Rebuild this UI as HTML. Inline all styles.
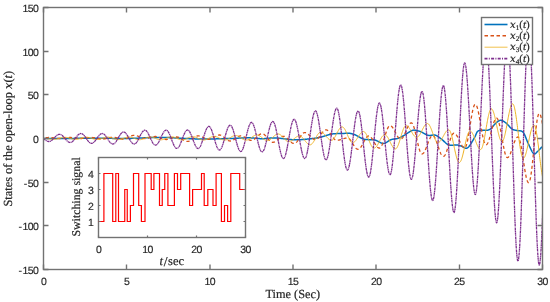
<!DOCTYPE html>
<html><head><meta charset="utf-8"><style>
html,body{margin:0;padding:0;background:#fff;width:550px;height:302px;overflow:hidden}
svg{display:block;filter:blur(0.35px)}
.tl{font-family:"Liberation Sans",sans-serif;font-size:10.5px;letter-spacing:-0.6px;fill:#262626;stroke:#262626;stroke-width:0.15px}
svg text{text-rendering:geometricPrecision}
.lb{font-family:"Liberation Serif",serif;font-size:12.5px;fill:#262626;stroke:#262626;stroke-width:0.2px}
.lg{font-family:"Liberation Serif",serif;font-size:11px;fill:#262626;stroke:#262626;stroke-width:0.2px}
.mi{font-family:"DejaVu Serif",serif;font-style:italic;font-size:10px}
</style></head><body>
<svg width="550" height="302" viewBox="0 0 550 302">
<defs><clipPath id="cp"><rect x="43.5" y="7.5" width="499.0" height="262.0"/></clipPath></defs>
<rect width="550" height="302" fill="#fff"/>
<g clip-path="url(#cp)" fill="none" stroke-linejoin="round">
<polyline points="40.00,138.50 40.25,138.50 40.50,138.50 40.75,138.50 41.00,138.50 41.25,138.50 41.50,138.50 41.75,138.50 42.00,138.50 42.25,138.50 42.50,138.50 42.75,138.50 43.00,138.50 43.25,138.50 43.50,138.50 43.75,138.50 44.00,138.50 44.25,138.50 44.50,138.50 44.75,138.50 45.00,138.49 45.25,138.49 45.50,138.49 45.75,138.49 46.00,138.49 46.25,138.49 46.50,138.49 46.75,138.49 47.00,138.49 47.25,138.49 47.50,138.49 47.75,138.49 48.00,138.48 48.25,138.48 48.50,138.48 48.75,138.48 49.00,138.48 49.25,138.48 49.50,138.48 49.75,138.48 50.00,138.48 50.25,138.48 50.50,138.47 50.75,138.47 51.00,138.47 51.25,138.47 51.50,138.47 51.75,138.47 52.00,138.47 52.25,138.47 52.50,138.47 52.75,138.47 53.00,138.46 53.25,138.46 53.50,138.46 53.75,138.46 54.00,138.46 54.25,138.46 54.50,138.46 54.75,138.46 55.00,138.46 55.25,138.46 55.50,138.45 55.75,138.45 56.00,138.45 56.25,138.45 56.50,138.45 56.75,138.45 57.00,138.45 57.25,138.45 57.50,138.45 57.75,138.44 58.00,138.44 58.25,138.44 58.50,138.44 58.75,138.44 59.00,138.44 59.25,138.44 59.50,138.44 59.75,138.44 60.00,138.44 60.25,138.43 60.50,138.43 60.75,138.43 61.00,138.43 61.25,138.43 61.50,138.43 61.75,138.43 62.00,138.43 62.25,138.43 62.50,138.42 62.75,138.42 63.00,138.42 63.25,138.42 63.50,138.42 63.75,138.42 64.00,138.42 64.25,138.42 64.50,138.42 64.75,138.41 65.00,138.41 65.25,138.41 65.50,138.41 65.75,138.41 66.00,138.41 66.25,138.41 66.50,138.41 66.75,138.41 67.00,138.40 67.25,138.40 67.50,138.40 67.75,138.40 68.00,138.40 68.25,138.40 68.50,138.40 68.75,138.40 69.00,138.40 69.25,138.40 69.50,138.39 69.75,138.39 70.00,138.39 70.25,138.39 70.50,138.39 70.75,138.39 71.00,138.39 71.25,138.39 71.50,138.39 71.75,138.38 72.00,138.38 72.25,138.38 72.50,138.38 72.75,138.38 73.00,138.38 73.25,138.38 73.50,138.38 73.75,138.38 74.00,138.38 74.25,138.37 74.50,138.37 74.75,138.37 75.00,138.37 75.25,138.37 75.50,138.37 75.75,138.37 76.00,138.37 76.25,138.37 76.50,138.37 76.75,138.36 77.00,138.36 77.25,138.36 77.50,138.36 77.75,138.36 78.00,138.36 78.25,138.36 78.50,138.36 78.75,138.36 79.00,138.36 79.25,138.35 79.50,138.35 79.75,138.35 80.00,138.35 80.25,138.35 80.50,138.35 80.75,138.35 81.00,138.35 81.25,138.35 81.50,138.35 81.75,138.35 82.00,138.34 82.25,138.34 82.50,138.34 82.75,138.34 83.00,138.34 83.25,138.34 83.50,138.34 83.75,138.34 84.00,138.34 84.25,138.34 84.50,138.34 84.75,138.34 85.00,138.33 85.25,138.33 85.50,138.33 85.75,138.33 86.00,138.33 86.25,138.33 86.50,138.33 86.75,138.33 87.00,138.33 87.25,138.33 87.50,138.33 87.75,138.33 88.00,138.33 88.25,138.32 88.50,138.32 88.75,138.32 89.00,138.32 89.25,138.32 89.50,138.32 89.75,138.32 90.00,138.32 90.25,138.32 90.50,138.32 90.75,138.32 91.00,138.32 91.25,138.32 91.50,138.32 91.75,138.32 92.00,138.31 92.25,138.31 92.50,138.31 92.75,138.31 93.00,138.31 93.25,138.31 93.50,138.31 93.75,138.31 94.00,138.31 94.25,138.31 94.50,138.31 94.75,138.31 95.00,138.31 95.25,138.31 95.50,138.31 95.75,138.31 96.00,138.31 96.25,138.31 96.50,138.31 96.75,138.30 97.00,138.30 97.25,138.30 97.50,138.30 97.75,138.30 98.00,138.30 98.25,138.30 98.50,138.30 98.75,138.30 99.00,138.30 99.25,138.30 99.50,138.30 99.75,138.30 100.00,138.30 100.25,138.30 100.50,138.30 100.75,138.30 101.00,138.30 101.25,138.30 101.50,138.30 101.75,138.30 102.00,138.30 102.25,138.30 102.50,138.30 102.75,138.30 103.00,138.30 103.25,138.30 103.50,138.31 103.75,138.31 104.00,138.31 104.25,138.31 104.50,138.31 104.75,138.31 105.00,138.31 105.25,138.32 105.50,138.32 105.75,138.32 106.00,138.32 106.25,138.32 106.50,138.32 106.75,138.33 107.00,138.33 107.25,138.33 107.50,138.33 107.75,138.33 108.00,138.34 108.25,138.34 108.50,138.34 108.75,138.34 109.00,138.34 109.25,138.35 109.50,138.35 109.75,138.35 110.00,138.35 110.25,138.36 110.50,138.36 110.75,138.36 111.00,138.36 111.25,138.37 111.50,138.37 111.75,138.37 112.00,138.37 112.25,138.38 112.50,138.38 112.75,138.38 113.00,138.38 113.25,138.39 113.50,138.39 113.75,138.39 114.00,138.39 114.25,138.40 114.50,138.40 114.75,138.40 115.00,138.40 115.25,138.40 115.50,138.41 115.75,138.41 116.00,138.41 116.25,138.41 116.50,138.41 116.75,138.42 117.00,138.42 117.25,138.42 117.50,138.42 117.75,138.42 118.00,138.43 118.25,138.43 118.50,138.43 118.75,138.43 119.00,138.43 119.25,138.43 119.50,138.44 119.75,138.44 120.00,138.44 120.25,138.44 120.50,138.44 120.75,138.44 121.00,138.44 121.25,138.44 121.50,138.44 121.75,138.44 122.00,138.45 122.25,138.45 122.50,138.45 122.75,138.45 123.00,138.45 123.25,138.45 123.50,138.45 123.75,138.45 124.00,138.45 124.25,138.45 124.50,138.45 124.75,138.44 125.00,138.44 125.25,138.44 125.50,138.44 125.75,138.44 126.00,138.44 126.25,138.44 126.50,138.44 126.75,138.44 127.00,138.43 127.25,138.43 127.50,138.43 127.75,138.43 128.00,138.42 128.25,138.42 128.50,138.42 128.75,138.42 129.00,138.41 129.25,138.41 129.50,138.41 129.75,138.40 130.00,138.40 130.25,138.40 130.50,138.39 130.75,138.39 131.00,138.38 131.25,138.38 131.50,138.37 131.75,138.37 132.00,138.36 132.25,138.35 132.50,138.35 132.75,138.34 133.00,138.33 133.25,138.33 133.50,138.32 133.75,138.31 134.00,138.30 134.25,138.29 134.50,138.29 134.75,138.28 135.00,138.27 135.25,138.26 135.50,138.25 135.75,138.24 136.00,138.23 136.25,138.22 136.50,138.21 136.75,138.20 137.00,138.19 137.25,138.18 137.50,138.17 137.75,138.16 138.00,138.15 138.25,138.14 138.50,138.12 138.75,138.11 139.00,138.10 139.25,138.09 139.50,138.08 139.75,138.07 140.00,138.06 140.25,138.04 140.50,138.03 140.75,138.02 141.00,138.01 141.25,138.00 141.50,137.98 141.75,137.97 142.00,137.96 142.25,137.95 142.50,137.93 142.75,137.92 143.00,137.91 143.25,137.90 143.50,137.88 143.75,137.87 144.00,137.86 144.25,137.85 144.50,137.84 144.75,137.82 145.00,137.81 145.25,137.80 145.50,137.79 145.75,137.78 146.00,137.76 146.25,137.75 146.50,137.74 146.75,137.73 147.00,137.72 147.25,137.71 147.50,137.69 147.75,137.68 148.00,137.67 148.25,137.66 148.50,137.65 148.75,137.64 149.00,137.63 149.25,137.62 149.50,137.61 149.75,137.60 150.00,137.59 150.25,137.58 150.50,137.57 150.75,137.56 151.00,137.55 151.25,137.54 151.50,137.53 151.75,137.52 152.00,137.52 152.25,137.51 152.50,137.50 152.75,137.49 153.00,137.48 153.25,137.48 153.50,137.47 153.75,137.46 154.00,137.46 154.25,137.45 154.50,137.44 154.75,137.44 155.00,137.43 155.25,137.43 155.50,137.42 155.75,137.42 156.00,137.42 156.25,137.41 156.50,137.41 156.75,137.41 157.00,137.40 157.25,137.40 157.50,137.40 157.75,137.40 158.00,137.40 158.25,137.40 158.50,137.39 158.75,137.39 159.00,137.39 159.25,137.40 159.50,137.40 159.75,137.40 160.00,137.40 160.25,137.40 160.50,137.40 160.75,137.41 161.00,137.41 161.25,137.41 161.50,137.42 161.75,137.42 162.00,137.43 162.25,137.43 162.50,137.43 162.75,137.44 163.00,137.44 163.25,137.45 163.50,137.46 163.75,137.46 164.00,137.47 164.25,137.47 164.50,137.48 164.75,137.49 165.00,137.49 165.25,137.50 165.50,137.51 165.75,137.51 166.00,137.52 166.25,137.53 166.50,137.54 166.75,137.55 167.00,137.55 167.25,137.56 167.50,137.57 167.75,137.58 168.00,137.59 168.25,137.60 168.50,137.61 168.75,137.62 169.00,137.63 169.25,137.64 169.50,137.65 169.75,137.66 170.00,137.67 170.25,137.68 170.50,137.69 170.75,137.70 171.00,137.71 171.25,137.72 171.50,137.73 171.75,137.75 172.00,137.76 172.25,137.77 172.50,137.78 172.75,137.79 173.00,137.80 173.25,137.82 173.50,137.83 173.75,137.84 174.00,137.85 174.25,137.86 174.50,137.88 174.75,137.89 175.00,137.90 175.25,137.91 175.50,137.93 175.75,137.94 176.00,137.95 176.25,137.97 176.50,137.98 176.75,137.99 177.00,138.00 177.25,138.02 177.50,138.03 177.75,138.04 178.00,138.06 178.25,138.07 178.50,138.08 178.75,138.10 179.00,138.11 179.25,138.12 179.50,138.14 179.75,138.15 180.00,138.16 180.25,138.18 180.50,138.19 180.75,138.20 181.00,138.22 181.25,138.23 181.50,138.25 181.75,138.26 182.00,138.27 182.25,138.29 182.50,138.30 182.75,138.31 183.00,138.33 183.25,138.34 183.50,138.35 183.75,138.37 184.00,138.38 184.25,138.39 184.50,138.41 184.75,138.42 185.00,138.43 185.25,138.44 185.50,138.46 185.75,138.47 186.00,138.48 186.25,138.50 186.50,138.51 186.75,138.52 187.00,138.53 187.25,138.55 187.50,138.56 187.75,138.57 188.00,138.58 188.25,138.60 188.50,138.61 188.75,138.62 189.00,138.63 189.25,138.64 189.50,138.65 189.75,138.67 190.00,138.68 190.25,138.69 190.50,138.70 190.75,138.71 191.00,138.72 191.25,138.73 191.50,138.74 191.75,138.75 192.00,138.76 192.25,138.77 192.50,138.78 192.75,138.79 193.00,138.80 193.25,138.81 193.50,138.82 193.75,138.83 194.00,138.84 194.25,138.85 194.50,138.86 194.75,138.87 195.00,138.88 195.25,138.88 195.50,138.89 195.75,138.90 196.00,138.91 196.25,138.91 196.50,138.92 196.75,138.93 197.00,138.94 197.25,138.94 197.50,138.95 197.75,138.95 198.00,138.96 198.25,138.97 198.50,138.97 198.75,138.98 199.00,138.98 199.25,138.99 199.50,138.99 199.75,139.00 200.00,139.00 200.25,139.00 200.50,139.01 200.75,139.01 201.00,139.01 201.25,139.02 201.50,139.02 201.75,139.02 202.00,139.02 202.25,139.03 202.50,139.03 202.75,139.03 203.00,139.03 203.25,139.03 203.50,139.03 203.75,139.03 204.00,139.03 204.25,139.03 204.50,139.03 204.75,139.03 205.00,139.03 205.25,139.03 205.50,139.03 205.75,139.03 206.00,139.03 206.25,139.03 206.50,139.03 206.75,139.03 207.00,139.03 207.25,139.02 207.50,139.02 207.75,139.02 208.00,139.02 208.25,139.02 208.50,139.01 208.75,139.01 209.00,139.01 209.25,139.00 209.50,139.00 209.75,139.00 210.00,138.99 210.25,138.99 210.50,138.99 210.75,138.98 211.00,138.98 211.25,138.98 211.50,138.97 211.75,138.97 212.00,138.96 212.25,138.96 212.50,138.95 212.75,138.95 213.00,138.94 213.25,138.94 213.50,138.93 213.75,138.93 214.00,138.92 214.25,138.92 214.50,138.91 214.75,138.91 215.00,138.90 215.25,138.90 215.50,138.89 215.75,138.88 216.00,138.88 216.25,138.87 216.50,138.87 216.75,138.86 217.00,138.85 217.25,138.85 217.50,138.84 217.75,138.83 218.00,138.83 218.25,138.82 218.50,138.81 218.75,138.81 219.00,138.80 219.25,138.79 219.50,138.79 219.75,138.78 220.00,138.77 220.25,138.77 220.50,138.76 220.75,138.75 221.00,138.75 221.25,138.74 221.50,138.73 221.75,138.72 222.00,138.72 222.25,138.71 222.50,138.70 222.75,138.70 223.00,138.69 223.25,138.68 223.50,138.68 223.75,138.67 224.00,138.66 224.25,138.65 224.50,138.65 224.75,138.64 225.00,138.63 225.25,138.63 225.50,138.62 225.75,138.61 226.00,138.61 226.25,138.60 226.50,138.59 226.75,138.58 227.00,138.58 227.25,138.57 227.50,138.56 227.75,138.56 228.00,138.55 228.25,138.54 228.50,138.54 228.75,138.53 229.00,138.53 229.25,138.52 229.50,138.51 229.75,138.51 230.00,138.50 230.25,138.49 230.50,138.49 230.75,138.48 231.00,138.47 231.25,138.46 231.50,138.46 231.75,138.45 232.00,138.44 232.25,138.43 232.50,138.42 232.75,138.41 233.00,138.40 233.25,138.39 233.50,138.38 233.75,138.37 234.00,138.35 234.25,138.34 234.50,138.33 234.75,138.32 235.00,138.31 235.25,138.30 235.50,138.28 235.75,138.27 236.00,138.26 236.25,138.25 236.50,138.23 236.75,138.22 237.00,138.21 237.25,138.19 237.50,138.18 237.75,138.17 238.00,138.15 238.25,138.14 238.50,138.13 238.75,138.12 239.00,138.10 239.25,138.09 239.50,138.08 239.75,138.06 240.00,138.05 240.25,138.04 240.50,138.03 240.75,138.02 241.00,138.00 241.25,137.99 241.50,137.98 241.75,137.97 242.00,137.96 242.25,137.95 242.50,137.94 242.75,137.93 243.00,137.92 243.25,137.91 243.50,137.90 243.75,137.89 244.00,137.88 244.25,137.87 244.50,137.86 244.75,137.86 245.00,137.85 245.25,137.84 245.50,137.84 245.75,137.83 246.00,137.82 246.25,137.82 246.50,137.81 246.75,137.81 247.00,137.81 247.25,137.80 247.50,137.80 247.75,137.80 248.00,137.80 248.25,137.80 248.50,137.80 248.75,137.80 249.00,137.80 249.25,137.80 249.50,137.81 249.75,137.81 250.00,137.82 250.25,137.83 250.50,137.84 250.75,137.85 251.00,137.87 251.25,137.88 251.50,137.90 251.75,137.91 252.00,137.93 252.25,137.95 252.50,137.97 252.75,137.99 253.00,138.01 253.25,138.03 253.50,138.06 253.75,138.08 254.00,138.10 254.25,138.13 254.50,138.15 254.75,138.18 255.00,138.20 255.25,138.23 255.50,138.25 255.75,138.28 256.00,138.30 256.25,138.33 256.50,138.35 256.75,138.38 257.00,138.40 257.25,138.43 257.50,138.45 257.75,138.47 258.00,138.49 258.25,138.52 258.50,138.54 258.75,138.56 259.00,138.57 259.25,138.59 259.50,138.61 259.75,138.62 260.00,138.64 260.25,138.65 260.50,138.66 260.75,138.67 261.00,138.68 261.25,138.69 261.50,138.69 261.75,138.70 262.00,138.70 262.25,138.70 262.50,138.70 262.75,138.69 263.00,138.69 263.25,138.68 263.50,138.67 263.75,138.66 264.00,138.64 264.25,138.63 264.50,138.61 264.75,138.59 265.00,138.57 265.25,138.55 265.50,138.53 265.75,138.51 266.00,138.48 266.25,138.46 266.50,138.44 266.75,138.41 267.00,138.39 267.25,138.36 267.50,138.33 267.75,138.31 268.00,138.28 268.25,138.25 268.50,138.23 268.75,138.20 269.00,138.18 269.25,138.15 269.50,138.13 269.75,138.10 270.00,138.08 270.25,138.06 270.50,138.04 270.75,138.01 271.00,138.00 271.25,137.98 271.50,137.96 271.75,137.95 272.00,137.93 272.25,137.92 272.50,137.91 272.75,137.90 273.00,137.89 273.25,137.89 273.50,137.89 273.75,137.89 274.00,137.89 274.25,137.89 274.50,137.90 274.75,137.91 275.00,137.92 275.25,137.93 275.50,137.94 275.75,137.96 276.00,137.97 276.25,137.98 276.50,138.00 276.75,138.02 277.00,138.04 277.25,138.05 277.50,138.07 277.75,138.09 278.00,138.11 278.25,138.14 278.50,138.16 278.75,138.18 279.00,138.21 279.25,138.23 279.50,138.26 279.75,138.28 280.00,138.31 280.25,138.33 280.50,138.36 280.75,138.39 281.00,138.42 281.25,138.45 281.50,138.47 281.75,138.50 282.00,138.53 282.25,138.56 282.50,138.59 282.75,138.62 283.00,138.65 283.25,138.68 283.50,138.72 283.75,138.75 284.00,138.78 284.25,138.81 284.50,138.84 284.75,138.87 285.00,138.90 285.25,138.93 285.50,138.96 285.75,138.99 286.00,139.03 286.25,139.06 286.50,139.09 286.75,139.12 287.00,139.15 287.25,139.18 287.50,139.20 287.75,139.23 288.00,139.26 288.25,139.29 288.50,139.32 288.75,139.35 289.00,139.37 289.25,139.40 289.50,139.42 289.75,139.45 290.00,139.47 290.25,139.50 290.50,139.52 290.75,139.54 291.00,139.57 291.25,139.59 291.50,139.61 291.75,139.63 292.00,139.65 292.25,139.66 292.50,139.68 292.75,139.70 293.00,139.71 293.25,139.73 293.50,139.74 293.75,139.75 294.00,139.77 294.25,139.78 294.50,139.78 294.75,139.79 295.00,139.80 295.25,139.81 295.50,139.81 295.75,139.81 296.00,139.82 296.25,139.82 296.50,139.82 296.75,139.81 297.00,139.81 297.25,139.81 297.50,139.80 297.75,139.80 298.00,139.79 298.25,139.79 298.50,139.78 298.75,139.77 299.00,139.76 299.25,139.75 299.50,139.73 299.75,139.72 300.00,139.71 300.25,139.69 300.50,139.68 300.75,139.66 301.00,139.65 301.25,139.63 301.50,139.61 301.75,139.59 302.00,139.57 302.25,139.56 302.50,139.54 302.75,139.51 303.00,139.49 303.25,139.47 303.50,139.45 303.75,139.43 304.00,139.40 304.25,139.38 304.50,139.36 304.75,139.33 305.00,139.31 305.25,139.29 305.50,139.26 305.75,139.24 306.00,139.21 306.25,139.19 306.50,139.16 306.75,139.13 307.00,139.11 307.25,139.08 307.50,139.06 307.75,139.03 308.00,139.00 308.25,138.98 308.50,138.95 308.75,138.93 309.00,138.90 309.25,138.88 309.50,138.85 309.75,138.83 310.00,138.80 310.25,138.77 310.50,138.75 310.75,138.72 311.00,138.70 311.25,138.67 311.50,138.64 311.75,138.61 312.00,138.59 312.25,138.56 312.50,138.53 312.75,138.50 313.00,138.47 313.25,138.44 313.50,138.40 313.75,138.37 314.00,138.34 314.25,138.30 314.50,138.27 314.75,138.23 315.00,138.20 315.25,138.16 315.50,138.12 315.75,138.09 316.00,138.05 316.25,138.01 316.50,137.97 316.75,137.92 317.00,137.88 317.25,137.84 317.50,137.79 317.75,137.75 318.00,137.70 318.25,137.66 318.50,137.61 318.75,137.56 319.00,137.51 319.25,137.46 319.50,137.41 319.75,137.35 320.00,137.30 320.25,137.24 320.50,137.19 320.75,137.13 321.00,137.06 321.25,137.00 321.50,136.93 321.75,136.87 322.00,136.80 322.25,136.73 322.50,136.66 322.75,136.58 323.00,136.51 323.25,136.43 323.50,136.36 323.75,136.28 324.00,136.20 324.25,136.13 324.50,136.05 324.75,135.97 325.00,135.89 325.25,135.81 325.50,135.73 325.75,135.65 326.00,135.57 326.25,135.49 326.50,135.41 326.75,135.33 327.00,135.26 327.25,135.18 327.50,135.10 327.75,135.03 328.00,134.96 328.25,134.88 328.50,134.81 328.75,134.74 329.00,134.67 329.25,134.60 329.50,134.54 329.75,134.48 330.00,134.41 330.25,134.35 330.50,134.30 330.75,134.24 331.00,134.19 331.25,134.14 331.50,134.09 331.75,134.04 332.00,134.00 332.25,133.96 332.50,133.92 332.75,133.89 333.00,133.86 333.25,133.83 333.50,133.80 333.75,133.77 334.00,133.75 334.25,133.73 334.50,133.71 334.75,133.69 335.00,133.68 335.25,133.66 335.50,133.65 335.75,133.64 336.00,133.63 336.25,133.62 336.50,133.61 336.75,133.60 337.00,133.60 337.25,133.59 337.50,133.59 337.75,133.59 338.00,133.58 338.25,133.58 338.50,133.58 338.75,133.58 339.00,133.57 339.25,133.57 339.50,133.57 339.75,133.57 340.00,133.57 340.25,133.57 340.50,133.56 340.75,133.56 341.00,133.56 341.25,133.55 341.50,133.55 341.75,133.54 342.00,133.54 342.25,133.53 342.50,133.52 342.75,133.51 343.00,133.50 343.25,133.49 343.50,133.47 343.75,133.45 344.00,133.43 344.25,133.41 344.50,133.38 344.75,133.36 345.00,133.33 345.25,133.31 345.50,133.28 345.75,133.26 346.00,133.23 346.25,133.21 346.50,133.20 346.75,133.18 347.00,133.17 347.25,133.16 347.50,133.15 347.75,133.15 348.00,133.16 348.25,133.17 348.50,133.18 348.75,133.20 349.00,133.23 349.25,133.26 349.50,133.29 349.75,133.33 350.00,133.36 350.25,133.41 350.50,133.45 350.75,133.50 351.00,133.55 351.25,133.60 351.50,133.66 351.75,133.72 352.00,133.78 352.25,133.85 352.50,133.92 352.75,133.99 353.00,134.07 353.25,134.15 353.50,134.23 353.75,134.32 354.00,134.41 354.25,134.50 354.50,134.60 354.75,134.70 355.00,134.81 355.25,134.92 355.50,135.03 355.75,135.15 356.00,135.28 356.25,135.40 356.50,135.53 356.75,135.66 357.00,135.79 357.25,135.93 357.50,136.07 357.75,136.21 358.00,136.35 358.25,136.49 358.50,136.63 358.75,136.77 359.00,136.91 359.25,137.05 359.50,137.19 359.75,137.33 360.00,137.46 360.25,137.60 360.50,137.73 360.75,137.86 361.00,137.99 361.25,138.12 361.50,138.24 361.75,138.36 362.00,138.48 362.25,138.59 362.50,138.69 362.75,138.79 363.00,138.89 363.25,138.98 363.50,139.07 363.75,139.14 364.00,139.21 364.25,139.27 364.50,139.32 364.75,139.37 365.00,139.41 365.25,139.45 365.50,139.48 365.75,139.50 366.00,139.53 366.25,139.54 366.50,139.56 366.75,139.57 367.00,139.59 367.25,139.60 367.50,139.61 367.75,139.62 368.00,139.63 368.25,139.64 368.50,139.66 368.75,139.67 369.00,139.69 369.25,139.71 369.50,139.73 369.75,139.74 370.00,139.74 370.25,139.75 370.50,139.75 370.75,139.75 371.00,139.74 371.25,139.74 371.50,139.73 371.75,139.73 372.00,139.73 372.25,139.73 372.50,139.73 372.75,139.73 373.00,139.74 373.25,139.75 373.50,139.77 373.75,139.80 374.00,139.83 374.25,139.86 374.50,139.91 374.75,139.96 375.00,140.03 375.25,140.10 375.50,140.18 375.75,140.27 376.00,140.37 376.25,140.47 376.50,140.58 376.75,140.69 377.00,140.81 377.25,140.94 377.50,141.07 377.75,141.20 378.00,141.33 378.25,141.46 378.50,141.60 378.75,141.73 379.00,141.87 379.25,142.00 379.50,142.13 379.75,142.26 380.00,142.38 380.25,142.50 380.50,142.62 380.75,142.73 381.00,142.83 381.25,142.93 381.50,143.02 381.75,143.10 382.00,143.18 382.25,143.24 382.50,143.30 382.75,143.34 383.00,143.37 383.25,143.39 383.50,143.40 383.75,143.39 384.00,143.37 384.25,143.33 384.50,143.27 384.75,143.19 385.00,143.10 385.25,143.00 385.50,142.89 385.75,142.76 386.00,142.63 386.25,142.49 386.50,142.33 386.75,142.18 387.00,142.02 387.25,141.85 387.50,141.68 387.75,141.51 388.00,141.34 388.25,141.17 388.50,141.00 388.75,140.84 389.00,140.68 389.25,140.52 389.50,140.37 389.75,140.23 390.00,140.09 390.25,139.97 390.50,139.86 390.75,139.75 391.00,139.67 391.25,139.59 391.50,139.51 391.75,139.44 392.00,139.38 392.25,139.33 392.50,139.28 392.75,139.23 393.00,139.19 393.25,139.15 393.50,139.11 393.75,139.08 394.00,139.05 394.25,139.02 394.50,138.99 394.75,138.96 395.00,138.93 395.25,138.90 395.50,138.86 395.75,138.83 396.00,138.80 396.25,138.76 396.50,138.71 396.75,138.67 397.00,138.62 397.25,138.56 397.50,138.50 397.75,138.44 398.00,138.36 398.25,138.28 398.50,138.20 398.75,138.10 399.00,138.01 399.25,137.90 399.50,137.80 399.75,137.68 400.00,137.57 400.25,137.45 400.50,137.32 400.75,137.20 401.00,137.06 401.25,136.93 401.50,136.80 401.75,136.66 402.00,136.52 402.25,136.38 402.50,136.24 402.75,136.10 403.00,135.96 403.25,135.82 403.50,135.68 403.75,135.54 404.00,135.40 404.25,135.26 404.50,135.11 404.75,134.97 405.00,134.81 405.25,134.66 405.50,134.50 405.75,134.33 406.00,134.17 406.25,134.00 406.50,133.83 406.75,133.66 407.00,133.49 407.25,133.32 407.50,133.15 407.75,132.98 408.00,132.81 408.25,132.65 408.50,132.48 408.75,132.32 409.00,132.15 409.25,132.00 409.50,131.84 409.75,131.69 410.00,131.54 410.25,131.40 410.50,131.26 410.75,131.12 411.00,130.99 411.25,130.87 411.50,130.76 411.75,130.65 412.00,130.54 412.25,130.45 412.50,130.36 412.75,130.29 413.00,130.22 413.25,130.17 413.50,130.14 413.75,130.12 414.00,130.11 414.25,130.12 414.50,130.13 414.75,130.16 415.00,130.19 415.25,130.23 415.50,130.28 415.75,130.33 416.00,130.39 416.25,130.45 416.50,130.52 416.75,130.58 417.00,130.65 417.25,130.71 417.50,130.78 417.75,130.84 418.00,130.90 418.25,130.95 418.50,131.00 418.75,131.05 419.00,131.11 419.25,131.17 419.50,131.24 419.75,131.32 420.00,131.40 420.25,131.49 420.50,131.59 420.75,131.69 421.00,131.80 421.25,131.91 421.50,132.04 421.75,132.16 422.00,132.29 422.25,132.42 422.50,132.56 422.75,132.70 423.00,132.84 423.25,132.99 423.50,133.13 423.75,133.28 424.00,133.42 424.25,133.57 424.50,133.71 424.75,133.85 425.00,133.99 425.25,134.13 425.50,134.26 425.75,134.39 426.00,134.51 426.25,134.63 426.50,134.75 426.75,134.85 427.00,134.95 427.25,135.05 427.50,135.13 427.75,135.21 428.00,135.28 428.25,135.33 428.50,135.38 428.75,135.41 429.00,135.43 429.25,135.44 429.50,135.45 429.75,135.44 430.00,135.43 430.25,135.41 430.50,135.38 430.75,135.36 431.00,135.32 431.25,135.29 431.50,135.25 431.75,135.21 432.00,135.18 432.25,135.14 432.50,135.11 432.75,135.08 433.00,135.05 433.25,135.03 433.50,135.02 433.75,135.01 434.00,135.01 434.25,135.02 434.50,135.04 434.75,135.07 435.00,135.11 435.25,135.16 435.50,135.23 435.75,135.31 436.00,135.40 436.25,135.51 436.50,135.62 436.75,135.75 437.00,135.89 437.25,136.03 437.50,136.18 437.75,136.34 438.00,136.51 438.25,136.68 438.50,136.86 438.75,137.04 439.00,137.23 439.25,137.42 439.50,137.61 439.75,137.80 440.00,137.99 440.25,138.18 440.50,138.38 440.75,138.56 441.00,138.75 441.25,138.94 441.50,139.13 441.75,139.33 442.00,139.53 442.25,139.75 442.50,139.97 442.75,140.19 443.00,140.42 443.25,140.65 443.50,140.89 443.75,141.13 444.00,141.37 444.25,141.60 444.50,141.84 444.75,142.08 445.00,142.31 445.25,142.54 445.50,142.77 445.75,142.98 446.00,143.20 446.25,143.41 446.50,143.60 446.75,143.79 447.00,143.97 447.25,144.14 447.50,144.30 447.75,144.45 448.00,144.58 448.25,144.70 448.50,144.80 448.75,144.89 449.00,144.97 449.25,145.04 449.50,145.10 449.75,145.14 450.00,145.18 450.25,145.22 450.50,145.24 450.75,145.26 451.00,145.27 451.25,145.27 451.50,145.27 451.75,145.27 452.00,145.26 452.25,145.24 452.50,145.23 452.75,145.21 453.00,145.18 453.25,145.16 453.50,145.14 453.75,145.11 454.00,145.08 454.25,145.06 454.50,145.04 454.75,145.01 455.00,144.99 455.25,144.98 455.50,144.96 455.75,144.95 456.00,144.95 456.25,144.95 456.50,144.95 456.75,144.96 457.00,144.98 457.25,145.01 457.50,145.04 457.75,145.08 458.00,145.13 458.25,145.19 458.50,145.25 458.75,145.32 459.00,145.40 459.25,145.47 459.50,145.55 459.75,145.64 460.00,145.72 460.25,145.80 460.50,145.89 460.75,145.97 461.00,146.05 461.25,146.13 461.50,146.20 461.75,146.28 462.00,146.38 462.25,146.49 462.50,146.62 462.75,146.76 463.00,146.90 463.25,147.05 463.50,147.20 463.75,147.35 464.00,147.50 464.25,147.64 464.50,147.78 464.75,147.90 465.00,148.01 465.25,148.11 465.50,148.18 465.75,148.24 466.00,148.27 466.25,148.28 466.50,148.26 466.75,148.20 467.00,148.12 467.25,147.99 467.50,147.83 467.75,147.64 468.00,147.43 468.25,147.20 468.50,146.95 468.75,146.68 469.00,146.39 469.25,146.09 469.50,145.77 469.75,145.43 470.00,145.08 470.25,144.72 470.50,144.34 470.75,143.96 471.00,143.56 471.25,143.16 471.50,142.75 471.75,142.34 472.00,141.91 472.25,141.49 472.50,141.06 472.75,140.63 473.00,140.20 473.25,139.77 473.50,139.34 473.75,138.92 474.00,138.49 474.25,138.07 474.50,137.66 474.75,137.24 475.00,136.75 475.25,136.21 475.50,135.62 475.75,135.01 476.00,134.39 476.25,133.78 476.50,133.20 476.75,132.66 477.00,132.19 477.25,131.80 477.50,131.50 477.75,131.28 478.00,131.08 478.25,130.93 478.50,130.80 478.75,130.69 479.00,130.61 479.25,130.55 479.50,130.51 479.75,130.48 480.00,130.46 480.25,130.45 480.50,130.45 480.75,130.45 481.00,130.45 481.25,130.45 481.50,130.44 481.75,130.42 482.00,130.39 482.25,130.36 482.50,130.34 482.75,130.33 483.00,130.32 483.25,130.32 483.50,130.32 483.75,130.33 484.00,130.33 484.25,130.34 484.50,130.35 484.75,130.36 485.00,130.37 485.25,130.37 485.50,130.38 485.75,130.38 486.00,130.37 486.25,130.37 486.50,130.35 486.75,130.34 487.00,130.31 487.25,130.28 487.50,130.24 487.75,130.19 488.00,130.13 488.25,130.06 488.50,129.98 488.75,129.89 489.00,129.78 489.25,129.67 489.50,129.54 489.75,129.40 490.00,129.25 490.25,129.08 490.50,128.90 490.75,128.71 491.00,128.50 491.25,128.28 491.50,128.03 491.75,127.77 492.00,127.50 492.25,127.21 492.50,126.92 492.75,126.62 493.00,126.31 493.25,126.00 493.50,125.69 493.75,125.39 494.00,125.09 494.25,124.79 494.50,124.50 494.75,124.23 495.00,123.97 495.25,123.73 495.50,123.50 495.75,123.28 496.00,123.06 496.25,122.84 496.50,122.62 496.75,122.40 497.00,122.19 497.25,121.98 497.50,121.77 497.75,121.58 498.00,121.39 498.25,121.21 498.50,121.05 498.75,120.89 499.00,120.75 499.25,120.63 499.50,120.53 499.75,120.44 500.00,120.37 500.25,120.32 500.50,120.30 500.75,120.30 501.00,120.31 501.25,120.34 501.50,120.39 501.75,120.45 502.00,120.53 502.25,120.62 502.50,120.72 502.75,120.84 503.00,120.96 503.25,121.10 503.50,121.24 503.75,121.39 504.00,121.55 504.25,121.72 504.50,121.89 504.75,122.07 505.00,122.25 505.25,122.44 505.50,122.62 505.75,122.81 506.00,123.00 506.25,123.20 506.50,123.41 506.75,123.64 507.00,123.88 507.25,124.12 507.50,124.38 507.75,124.65 508.00,124.92 508.25,125.20 508.50,125.49 508.75,125.77 509.00,126.06 509.25,126.34 509.50,126.62 509.75,126.90 510.00,127.17 510.25,127.44 510.50,127.70 510.75,127.95 511.00,128.19 511.25,128.41 511.50,128.62 511.75,128.82 512.00,129.00 512.25,129.16 512.50,129.31 512.75,129.44 513.00,129.56 513.25,129.66 513.50,129.75 513.75,129.84 514.00,129.91 514.25,129.97 514.50,130.03 514.75,130.09 515.00,130.13 515.25,130.18 515.50,130.22 515.75,130.26 516.00,130.31 516.25,130.35 516.50,130.40 516.75,130.45 517.00,130.50 517.25,130.55 517.50,130.59 517.75,130.63 518.00,130.65 518.25,130.67 518.50,130.69 518.75,130.70 519.00,130.72 519.25,130.73 519.50,130.75 519.75,130.77 520.00,130.80 520.25,130.83 520.50,130.87 520.75,130.92 521.00,130.99 521.25,131.07 521.50,131.16 521.75,131.27 522.00,131.39 522.25,131.53 522.50,131.69 522.75,131.88 523.00,132.11 523.25,132.38 523.50,132.70 523.75,133.07 524.00,133.50 524.25,133.98 524.50,134.50 524.75,135.05 525.00,135.64 525.25,136.24 525.50,136.86 525.75,137.50 526.00,138.14 526.25,138.79 526.50,139.43 526.75,140.07 527.00,140.70 527.25,141.31 527.50,141.90 527.75,142.47 528.00,143.00 528.25,143.52 528.50,144.05 528.75,144.59 529.00,145.14 529.25,145.69 529.50,146.25 529.75,146.80 530.00,147.35 530.25,147.89 530.50,148.43 530.75,148.95 531.00,149.47 531.25,149.97 531.50,150.45 531.75,150.91 532.00,151.36 532.25,151.78 532.50,152.17 532.75,152.53 533.00,152.87 533.25,153.17 533.50,153.43 533.75,153.66 534.00,153.83 534.25,153.94 534.50,153.97 534.75,153.94 535.00,153.85 535.25,153.72 535.50,153.55 535.75,153.34 536.00,153.10 536.25,152.84 536.50,152.57 536.75,152.29 537.00,152.01 537.25,151.73 537.50,151.46 537.75,151.22 538.00,151.00 538.25,150.79 538.50,150.56 538.75,150.31 539.00,150.06 539.25,149.79 539.50,149.52 539.75,149.24 540.00,148.97 540.25,148.69 540.50,148.42 540.75,148.15 541.00,147.89 541.25,147.65 541.50,147.41 541.75,147.20 542.00,147.00 542.25,146.82 542.50,146.65 542.75,146.50 543.00,146.36 543.25,146.23 543.50,146.10 543.75,145.99 544.00,145.88 544.25,145.77 544.50,145.66 544.75,145.56 545.00,145.45 545.25,145.35 545.50,145.24 545.75,145.12" stroke="#0072BD" stroke-width="1.5"/>
<polyline points="40.00,138.90 40.25,138.87 40.50,138.84 40.75,138.80 41.00,138.77 41.25,138.72 41.50,138.68 41.75,138.63 42.00,138.58 42.25,138.53 42.50,138.48 42.75,138.43 43.00,138.38 43.25,138.32 43.50,138.27 43.75,138.21 44.00,138.16 44.25,138.10 44.50,138.05 44.75,137.99 45.00,137.94 45.25,137.89 45.50,137.85 45.75,137.80 46.00,137.76 46.25,137.72 46.50,137.68 46.75,137.65 47.00,137.61 47.25,137.59 47.50,137.56 47.75,137.54 48.00,137.53 48.25,137.51 48.50,137.51 48.75,137.50 49.00,137.50 49.25,137.50 49.50,137.51 49.75,137.52 50.00,137.53 50.25,137.54 50.50,137.55 50.75,137.57 51.00,137.59 51.25,137.61 51.50,137.64 51.75,137.67 52.00,137.69 52.25,137.72 52.50,137.75 52.75,137.79 53.00,137.82 53.25,137.86 53.50,137.89 53.75,137.93 54.00,137.96 54.25,138.00 54.50,138.04 54.75,138.07 55.00,138.11 55.25,138.14 55.50,138.18 55.75,138.21 56.00,138.25 56.25,138.28 56.50,138.31 56.75,138.33 57.00,138.36 57.25,138.39 57.50,138.41 57.75,138.43 58.00,138.45 58.25,138.46 58.50,138.47 58.75,138.48 59.00,138.49 59.25,138.50 59.50,138.50 59.75,138.50 60.00,138.50 60.25,138.49 60.50,138.48 60.75,138.47 61.00,138.46 61.25,138.44 61.50,138.42 61.75,138.40 62.00,138.38 62.25,138.35 62.50,138.33 62.75,138.30 63.00,138.27 63.25,138.24 63.50,138.20 63.75,138.17 64.00,138.13 64.25,138.10 64.50,138.06 64.75,138.02 65.00,137.99 65.25,137.95 65.50,137.91 65.75,137.88 66.00,137.84 66.25,137.81 66.50,137.77 66.75,137.74 67.00,137.71 67.25,137.68 67.50,137.65 67.75,137.63 68.00,137.60 68.25,137.58 68.50,137.56 68.75,137.55 69.00,137.53 69.25,137.52 69.50,137.51 69.75,137.50 70.00,137.50 70.25,137.50 70.50,137.50 70.75,137.51 71.00,137.51 71.25,137.52 71.50,137.53 71.75,137.55 72.00,137.57 72.25,137.59 72.50,137.61 72.75,137.63 73.00,137.66 73.25,137.69 73.50,137.71 73.75,137.75 74.00,137.78 74.25,137.81 74.50,137.85 74.75,137.88 75.00,137.92 75.25,137.95 75.50,137.99 75.75,138.03 76.00,138.06 76.25,138.10 76.50,138.13 76.75,138.17 77.00,138.20 77.25,138.24 77.50,138.27 77.75,138.30 78.00,138.33 78.25,138.35 78.50,138.38 78.75,138.40 79.00,138.42 79.25,138.44 79.50,138.46 79.75,138.47 80.00,138.48 80.25,138.49 80.50,138.50 80.75,138.50 81.00,138.50 81.25,138.50 81.50,138.49 81.75,138.49 82.00,138.47 82.25,138.46 82.50,138.45 82.75,138.43 83.00,138.41 83.25,138.39 83.50,138.36 83.75,138.33 84.00,138.31 84.25,138.28 84.50,138.24 84.75,138.21 85.00,138.18 85.25,138.14 85.50,138.11 85.75,138.07 86.00,138.03 86.25,138.00 86.50,137.96 86.75,137.92 87.00,137.89 87.25,137.85 87.50,137.82 87.75,137.78 88.00,137.75 88.25,137.72 88.50,137.69 88.75,137.66 89.00,137.63 89.25,137.61 89.50,137.59 89.75,137.57 90.00,137.55 90.25,137.54 90.50,137.52 90.75,137.51 91.00,137.51 91.25,137.50 91.50,137.50 91.75,137.50 92.00,137.51 92.25,137.52 92.50,137.53 92.75,137.55 93.00,137.57 93.25,137.60 93.50,137.63 93.75,137.66 94.00,137.70 94.25,137.74 94.50,137.78 94.75,137.83 95.00,137.88 95.25,137.93 95.50,137.98 95.75,138.04 96.00,138.09 96.25,138.15 96.50,138.21 96.75,138.27 97.00,138.33 97.25,138.38 97.50,138.44 97.75,138.50 98.00,138.56 98.25,138.61 98.50,138.66 98.75,138.72 99.00,138.76 99.25,138.81 99.50,138.85 99.75,138.90 100.00,138.93 100.25,138.97 100.50,139.00 100.75,139.02 101.00,139.05 101.25,139.07 101.50,139.08 101.75,139.09 102.00,139.10 102.25,139.10 102.50,139.10 102.75,139.09 103.00,139.08 103.25,139.06 103.50,139.04 103.75,139.01 104.00,138.98 104.25,138.95 104.50,138.91 104.75,138.86 105.00,138.82 105.25,138.77 105.50,138.71 105.75,138.66 106.00,138.60 106.25,138.54 106.50,138.48 106.75,138.41 107.00,138.35 107.25,138.28 107.50,138.21 107.75,138.15 108.00,138.08 108.25,138.01 108.50,137.95 108.75,137.89 109.00,137.83 109.25,137.77 109.50,137.71 109.75,137.65 110.00,137.60 110.25,137.56 110.50,137.51 110.75,137.47 111.00,137.43 111.25,137.40 111.50,137.37 111.75,137.35 112.00,137.33 112.25,137.31 112.50,137.31 112.75,137.30 113.00,137.30 113.25,137.31 113.50,137.32 113.75,137.33 114.00,137.35 114.25,137.37 114.50,137.40 114.75,137.44 115.00,137.47 115.25,137.51 115.50,137.56 115.75,137.61 116.00,137.66 116.25,137.71 116.50,137.77 116.75,137.83 117.00,137.89 117.25,137.95 117.50,138.01 117.75,138.08 118.00,138.14 118.25,138.21 118.50,138.28 118.75,138.34 119.00,138.41 119.25,138.47 119.50,138.53 119.75,138.59 120.00,138.65 120.25,138.71 120.50,138.76 120.75,138.81 121.00,138.86 121.25,138.90 121.50,138.94 121.75,138.98 122.00,139.01 122.25,139.03 122.50,139.06 122.75,139.07 123.00,139.09 123.25,139.10 123.50,139.10 123.75,139.10 124.00,139.08 124.25,139.06 124.50,139.03 124.75,138.98 125.00,138.93 125.25,138.87 125.50,138.80 125.75,138.72 126.00,138.63 126.25,138.53 126.50,138.43 126.75,138.31 127.00,138.20 127.25,138.08 127.50,137.95 127.75,137.82 128.00,137.68 128.25,137.55 128.50,137.41 128.75,137.27 129.00,137.13 129.25,136.99 129.50,136.85 129.75,136.71 130.00,136.58 130.25,136.45 130.50,136.32 130.75,136.20 131.00,136.08 131.25,135.97 131.50,135.87 131.75,135.77 132.00,135.68 132.25,135.60 132.50,135.53 132.75,135.47 133.00,135.41 133.25,135.37 133.50,135.34 133.75,135.32 134.00,135.30 134.25,135.30 134.50,135.31 134.75,135.32 135.00,135.35 135.25,135.38 135.50,135.42 135.75,135.47 136.00,135.52 136.25,135.59 136.50,135.66 136.75,135.73 137.00,135.82 137.25,135.91 137.50,136.00 137.75,136.10 138.00,136.21 138.25,136.31 138.50,136.42 138.75,136.54 139.00,136.65 139.25,136.77 139.50,136.89 139.75,137.00 140.00,137.12 140.25,137.24 140.50,137.35 140.75,137.46 141.00,137.57 141.25,137.67 141.50,137.77 141.75,137.87 142.00,137.96 142.25,138.05 142.50,138.12 142.75,138.20 143.00,138.26 143.25,138.32 143.50,138.37 143.75,138.41 144.00,138.45 144.25,138.47 144.50,138.49 144.75,138.50 145.00,138.50 145.25,138.49 145.50,138.48 145.75,138.47 146.00,138.45 146.25,138.42 146.50,138.39 146.75,138.35 147.00,138.31 147.25,138.26 147.50,138.21 147.75,138.16 148.00,138.10 148.25,138.04 148.50,137.98 148.75,137.91 149.00,137.84 149.25,137.77 149.50,137.70 149.75,137.63 150.00,137.56 150.25,137.48 150.50,137.41 150.75,137.34 151.00,137.26 151.25,137.19 151.50,137.12 151.75,137.05 152.00,136.99 152.25,136.93 152.50,136.87 152.75,136.81 153.00,136.76 153.25,136.71 153.50,136.67 153.75,136.63 154.00,136.60 154.25,136.57 154.50,136.54 154.75,136.52 155.00,136.51 155.25,136.50 155.50,136.50 155.75,136.50 156.00,136.52 156.25,136.54 156.50,136.56 156.75,136.60 157.00,136.64 157.25,136.69 157.50,136.75 157.75,136.82 158.00,136.89 158.25,136.96 158.50,137.05 158.75,137.13 159.00,137.22 159.25,137.32 159.50,137.42 159.75,137.52 160.00,137.63 160.25,137.74 160.50,137.85 160.75,137.96 161.00,138.07 161.25,138.18 161.50,138.28 161.75,138.39 162.00,138.50 162.25,138.60 162.50,138.70 162.75,138.79 163.00,138.89 163.25,138.97 163.50,139.05 163.75,139.13 164.00,139.20 164.25,139.26 164.50,139.32 164.75,139.37 165.00,139.41 165.25,139.44 165.50,139.47 165.75,139.49 166.00,139.50 166.25,139.50 166.50,139.50 166.75,139.48 167.00,139.47 167.25,139.44 167.50,139.41 167.75,139.37 168.00,139.33 168.25,139.28 168.50,139.22 168.75,139.16 169.00,139.10 169.25,139.02 169.50,138.95 169.75,138.87 170.00,138.79 170.25,138.71 170.50,138.62 170.75,138.53 171.00,138.44 171.25,138.35 171.50,138.25 171.75,138.16 172.00,138.07 172.25,137.98 172.50,137.89 172.75,137.80 173.00,137.72 173.25,137.63 173.50,137.56 173.75,137.48 174.00,137.41 174.25,137.34 174.50,137.28 174.75,137.23 175.00,137.18 175.25,137.13 175.50,137.09 175.75,137.06 176.00,137.04 176.25,137.02 176.50,137.01 176.75,137.00 177.00,137.00 177.25,137.02 177.50,137.04 177.75,137.08 178.00,137.13 178.25,137.19 178.50,137.26 178.75,137.34 179.00,137.44 179.25,137.54 179.50,137.65 179.75,137.77 180.00,137.89 180.25,138.02 180.50,138.16 180.75,138.31 181.00,138.46 181.25,138.61 181.50,138.77 181.75,138.93 182.00,139.09 182.25,139.25 182.50,139.41 182.75,139.57 183.00,139.73 183.25,139.89 183.50,140.04 183.75,140.18 184.00,140.33 184.25,140.46 184.50,140.59 184.75,140.71 185.00,140.82 185.25,140.93 185.50,141.02 185.75,141.11 186.00,141.18 186.25,141.25 186.50,141.30 186.75,141.34 187.00,141.37 187.25,141.39 187.50,141.40 187.75,141.39 188.00,141.37 188.25,141.34 188.50,141.29 188.75,141.22 189.00,141.14 189.25,141.05 189.50,140.94 189.75,140.82 190.00,140.69 190.25,140.55 190.50,140.40 190.75,140.24 191.00,140.07 191.25,139.89 191.50,139.70 191.75,139.51 192.00,139.32 192.25,139.12 192.50,138.92 192.75,138.72 193.00,138.51 193.25,138.31 193.50,138.11 193.75,137.91 194.00,137.72 194.25,137.53 194.50,137.35 194.75,137.17 195.00,137.00 195.25,136.85 195.50,136.70 195.75,136.56 196.00,136.43 196.25,136.32 196.50,136.22 196.75,136.13 197.00,136.05 197.25,135.99 197.50,135.95 197.75,135.92 198.00,135.90 198.25,135.90 198.50,135.91 198.75,135.93 199.00,135.95 199.25,135.99 199.50,136.03 199.75,136.09 200.00,136.15 200.25,136.22 200.50,136.29 200.75,136.38 201.00,136.46 201.25,136.56 201.50,136.66 201.75,136.77 202.00,136.88 202.25,136.99 202.50,137.11 202.75,137.23 203.00,137.36 203.25,137.48 203.50,137.60 203.75,137.73 204.00,137.85 204.25,137.98 204.50,138.10 204.75,138.21 205.00,138.33 205.25,138.44 205.50,138.55 205.75,138.65 206.00,138.74 206.25,138.83 206.50,138.91 206.75,138.99 207.00,139.06 207.25,139.12 207.50,139.17 207.75,139.21 208.00,139.25 208.25,139.27 208.50,139.29 208.75,139.30 209.00,139.30 209.25,139.28 209.50,139.26 209.75,139.22 210.00,139.17 210.25,139.12 210.50,139.05 210.75,138.97 211.00,138.88 211.25,138.78 211.50,138.67 211.75,138.55 212.00,138.43 212.25,138.30 212.50,138.16 212.75,138.02 213.00,137.87 213.25,137.72 213.50,137.56 213.75,137.40 214.00,137.25 214.25,137.09 214.50,136.93 214.75,136.77 215.00,136.62 215.25,136.46 215.50,136.31 215.75,136.17 216.00,136.03 216.25,135.90 216.50,135.77 216.75,135.65 217.00,135.54 217.25,135.44 217.50,135.35 217.75,135.27 218.00,135.20 218.25,135.14 218.50,135.09 218.75,135.05 219.00,135.02 219.25,135.00 219.50,135.00 219.75,135.01 220.00,135.04 220.25,135.08 220.50,135.14 220.75,135.21 221.00,135.30 221.25,135.40 221.50,135.52 221.75,135.65 222.00,135.80 222.25,135.95 222.50,136.12 222.75,136.29 223.00,136.48 223.25,136.67 223.50,136.87 223.75,137.08 224.00,137.29 224.25,137.51 224.50,137.73 224.75,137.95 225.00,138.17 225.25,138.39 225.50,138.60 225.75,138.82 226.00,139.03 226.25,139.23 226.50,139.43 226.75,139.62 227.00,139.80 227.25,139.97 227.50,140.13 227.75,140.28 228.00,140.42 228.25,140.54 228.50,140.65 228.75,140.75 229.00,140.83 229.25,140.89 229.50,140.94 229.75,140.98 230.00,141.00 230.25,141.00 230.50,140.99 230.75,140.96 231.00,140.92 231.25,140.87 231.50,140.80 231.75,140.72 232.00,140.63 232.25,140.53 232.50,140.41 232.75,140.29 233.00,140.15 233.25,140.01 233.50,139.85 233.75,139.69 234.00,139.52 234.25,139.35 234.50,139.17 234.75,138.99 235.00,138.80 235.25,138.62 235.50,138.43 235.75,138.24 236.00,138.05 236.25,137.87 236.50,137.68 236.75,137.51 237.00,137.33 237.25,137.17 237.50,137.01 237.75,136.86 238.00,136.71 238.25,136.58 238.50,136.46 238.75,136.35 239.00,136.25 239.25,136.16 239.50,136.08 239.75,136.02 240.00,135.97 240.25,135.93 240.50,135.91 240.75,135.90 241.00,135.90 241.25,135.92 241.50,135.95 241.75,135.99 242.00,136.04 242.25,136.11 242.50,136.18 242.75,136.27 243.00,136.36 243.25,136.47 243.50,136.58 243.75,136.70 244.00,136.83 244.25,136.97 244.50,137.11 244.75,137.26 245.00,137.42 245.25,137.58 245.50,137.74 245.75,137.90 246.00,138.06 246.25,138.23 246.50,138.39 246.75,138.56 247.00,138.72 247.25,138.88 247.50,139.03 247.75,139.18 248.00,139.32 248.25,139.46 248.50,139.59 248.75,139.72 249.00,139.83 249.25,139.93 249.50,140.03 249.75,140.12 250.00,140.19 250.25,140.25 250.50,140.31 250.75,140.35 251.00,140.38 251.25,140.39 251.50,140.40 251.75,140.39 252.00,140.36 252.25,140.31 252.50,140.25 252.75,140.17 253.00,140.07 253.25,139.95 253.50,139.82 253.75,139.67 254.00,139.51 254.25,139.34 254.50,139.15 254.75,138.95 255.00,138.74 255.25,138.52 255.50,138.30 255.75,138.06 256.00,137.83 256.25,137.58 256.50,137.34 256.75,137.09 257.00,136.84 257.25,136.60 257.50,136.35 257.75,136.11 258.00,135.88 258.25,135.65 258.50,135.43 258.75,135.21 259.00,135.01 259.25,134.82 259.50,134.64 259.75,134.48 260.00,134.33 260.25,134.19 260.50,134.07 260.75,133.96 261.00,133.88 261.25,133.81 261.50,133.75 261.75,133.72 262.00,133.70 262.25,133.70 262.50,133.73 262.75,133.78 263.00,133.85 263.25,133.94 263.50,134.06 263.75,134.19 264.00,134.35 264.25,134.53 264.50,134.72 264.75,134.94 265.00,135.17 265.25,135.41 265.50,135.67 265.75,135.94 266.00,136.22 266.25,136.52 266.50,136.82 266.75,137.12 267.00,137.43 267.25,137.75 267.50,138.06 267.75,138.38 268.00,138.69 268.25,139.00 268.50,139.30 268.75,139.60 269.00,139.89 269.25,140.17 269.50,140.43 269.75,140.69 270.00,140.93 270.25,141.15 270.50,141.36 270.75,141.54 271.00,141.71 271.25,141.86 271.50,141.99 271.75,142.10 272.00,142.18 272.25,142.24 272.50,142.28 272.75,142.30 273.00,142.29 273.25,142.27 273.50,142.24 273.75,142.18 274.00,142.11 274.25,142.03 274.50,141.93 274.75,141.81 275.00,141.69 275.25,141.55 275.50,141.39 275.75,141.23 276.00,141.05 276.25,140.87 276.50,140.68 276.75,140.47 277.00,140.27 277.25,140.06 277.50,139.84 277.75,139.62 278.00,139.40 278.25,139.18 278.50,138.95 278.75,138.74 279.00,138.52 279.25,138.31 279.50,138.10 279.75,137.90 280.00,137.71 280.25,137.53 280.50,137.35 280.75,137.19 281.00,137.04 281.25,136.90 281.50,136.77 281.75,136.66 282.00,136.56 282.25,136.48 282.50,136.41 282.75,136.36 283.00,136.32 283.25,136.30 283.50,136.30 283.75,136.32 284.00,136.35 284.25,136.41 284.50,136.48 284.75,136.57 285.00,136.68 285.25,136.81 285.50,136.95 285.75,137.11 286.00,137.28 286.25,137.47 286.50,137.67 286.75,137.89 287.00,138.11 287.25,138.35 287.50,138.59 287.75,138.84 288.00,139.09 288.25,139.35 288.50,139.61 288.75,139.88 289.00,140.14 289.25,140.41 289.50,140.67 289.75,140.92 290.00,141.17 290.25,141.42 290.50,141.65 290.75,141.88 291.00,142.09 291.25,142.30 291.50,142.49 291.75,142.66 292.00,142.82 292.25,142.97 292.50,143.10 292.75,143.21 293.00,143.31 293.25,143.38 293.50,143.44 293.75,143.48 294.00,143.50 294.25,143.50 294.50,143.47 294.75,143.41 295.00,143.32 295.25,143.20 295.50,143.05 295.75,142.88 296.00,142.68 296.25,142.45 296.50,142.20 296.75,141.93 297.00,141.64 297.25,141.33 297.50,141.00 297.75,140.65 298.00,140.29 298.25,139.91 298.50,139.53 298.75,139.14 299.00,138.74 299.25,138.34 299.50,137.94 299.75,137.53 300.00,137.14 300.25,136.74 300.50,136.35 300.75,135.98 301.00,135.61 301.25,135.26 301.50,134.92 301.75,134.60 302.00,134.29 302.25,134.01 302.50,133.75 302.75,133.52 303.00,133.31 303.25,133.12 303.50,132.96 303.75,132.83 304.00,132.73 304.25,132.66 304.50,132.61 304.75,132.60 305.00,132.61 305.25,132.64 305.50,132.69 305.75,132.75 306.00,132.84 306.25,132.94 306.50,133.06 306.75,133.19 307.00,133.34 307.25,133.51 307.50,133.69 307.75,133.88 308.00,134.08 308.25,134.30 308.50,134.52 308.75,134.76 309.00,135.00 309.25,135.25 309.50,135.50 309.75,135.75 310.00,136.01 310.25,136.26 310.50,136.52 310.75,136.77 311.00,137.02 311.25,137.27 311.50,137.51 311.75,137.74 312.00,137.96 312.25,138.17 312.50,138.38 312.75,138.56 313.00,138.74 313.25,138.90 313.50,139.05 313.75,139.18 314.00,139.29 314.25,139.39 314.50,139.47 314.75,139.53 315.00,139.57 315.25,139.59 315.50,139.60 315.75,139.58 316.00,139.53 316.25,139.46 316.50,139.36 316.75,139.24 317.00,139.09 317.25,138.92 317.50,138.73 317.75,138.51 318.00,138.27 318.25,138.02 318.50,137.74 318.75,137.45 319.00,137.15 319.25,136.83 319.50,136.50 319.75,136.16 320.00,135.82 320.25,135.46 320.50,135.11 320.75,134.75 321.00,134.39 321.25,134.04 321.50,133.68 321.75,133.34 322.00,133.00 322.25,132.67 322.50,132.35 322.75,132.05 323.00,131.76 323.25,131.48 323.50,131.23 323.75,130.99 324.00,130.77 324.25,130.58 324.50,130.41 324.75,130.26 325.00,130.14 325.25,130.04 325.50,129.97 325.75,129.92 326.00,129.90 326.25,129.91 326.50,129.94 326.75,130.01 327.00,130.10 327.25,130.21 327.50,130.36 327.75,130.53 328.00,130.72 328.25,130.94 328.50,131.18 328.75,131.44 329.00,131.72 329.25,132.02 329.50,132.33 329.75,132.66 330.00,133.01 330.25,133.36 330.50,133.73 330.75,134.10 331.00,134.48 331.25,134.86 331.50,135.24 331.75,135.62 332.00,136.00 332.25,136.37 332.50,136.74 332.75,137.09 333.00,137.44 333.25,137.77 333.50,138.09 333.75,138.40 334.00,138.68 334.25,138.95 334.50,139.20 334.75,139.42 335.00,139.62 335.25,139.80 335.50,139.95 335.75,140.07 336.00,140.17 336.25,140.24 336.50,140.28 336.75,140.30 337.00,140.30 337.25,140.29 337.50,140.27 337.75,140.25 338.00,140.22 338.25,140.19 338.50,140.15 338.75,140.11 339.00,140.06 339.25,140.00 339.50,139.94 339.75,139.88 340.00,139.81 340.25,139.74 340.50,139.67 340.75,139.59 341.00,139.51 341.25,139.43 341.50,139.34 341.75,139.26 342.00,139.17 342.25,139.09 342.50,139.00 342.75,138.92 343.00,138.84 343.25,138.76 343.50,138.68 343.75,138.60 344.00,138.53 344.25,138.46 344.50,138.39 344.75,138.33 345.00,138.27 345.25,138.22 345.50,138.17 345.75,138.13 346.00,138.09 346.25,138.06 346.50,138.04 346.75,138.02 347.00,138.01 347.25,138.00 347.50,138.00 347.75,138.03 348.00,138.09 348.25,138.18 348.50,138.30 348.75,138.45 349.00,138.63 349.25,138.83 349.50,139.06 349.75,139.31 350.00,139.59 350.25,139.89 350.50,140.21 350.75,140.55 351.00,140.90 351.25,141.27 351.50,141.65 351.75,142.05 352.00,142.45 352.25,142.86 352.50,143.27 352.75,143.68 353.00,144.10 353.25,144.51 353.50,144.92 353.75,145.32 354.00,145.71 354.25,146.09 354.50,146.46 354.75,146.81 355.00,147.14 355.25,147.46 355.50,147.76 355.75,148.03 356.00,148.28 356.25,148.50 356.50,148.70 356.75,148.87 357.00,149.02 357.25,149.13 357.50,149.22 357.75,149.27 358.00,149.30 358.25,149.29 358.50,149.25 358.75,149.17 359.00,149.06 359.25,148.91 359.50,148.72 359.75,148.50 360.00,148.26 360.25,147.98 360.50,147.67 360.75,147.33 361.00,146.97 361.25,146.58 361.50,146.18 361.75,145.75 362.00,145.31 362.25,144.85 362.50,144.38 362.75,143.90 363.00,143.42 363.25,142.93 363.50,142.43 363.75,141.94 364.00,141.46 364.25,140.98 364.50,140.51 364.75,140.05 365.00,139.60 365.25,139.17 365.50,138.76 365.75,138.38 366.00,138.01 366.25,137.67 366.50,137.36 366.75,137.08 367.00,136.82 367.25,136.60 367.50,136.41 367.75,136.26 368.00,136.14 368.25,136.06 368.50,136.01 368.75,136.00 369.00,136.02 369.25,136.08 369.50,136.17 369.75,136.29 370.00,136.44 370.25,136.62 370.50,136.83 370.75,137.06 371.00,137.33 371.25,137.62 371.50,137.93 371.75,138.27 372.00,138.62 372.25,139.00 372.50,139.39 372.75,139.80 373.00,140.21 373.25,140.64 373.50,141.08 373.75,141.52 374.00,141.96 374.25,142.41 374.50,142.85 374.75,143.28 375.00,143.72 375.25,144.14 375.50,144.55 375.75,144.95 376.00,145.33 376.25,145.69 376.50,146.04 376.75,146.36 377.00,146.66 377.25,146.93 377.50,147.18 377.75,147.40 378.00,147.60 378.25,147.76 378.50,147.89 378.75,147.99 379.00,148.06 379.25,148.09 379.50,148.10 379.75,148.04 380.00,147.92 380.25,147.75 380.50,147.51 380.75,147.22 381.00,146.87 381.25,146.46 381.50,146.01 381.75,145.50 382.00,144.95 382.25,144.35 382.50,143.71 382.75,143.04 383.00,142.33 383.25,141.59 383.50,140.82 383.75,140.04 384.00,139.24 384.25,138.42 384.50,137.60 384.75,136.77 385.00,135.94 385.25,135.12 385.50,134.31 385.75,133.51 386.00,132.73 386.25,131.97 386.50,131.24 386.75,130.54 387.00,129.88 387.25,129.25 387.50,128.67 387.75,128.13 388.00,127.64 388.25,127.20 388.50,126.81 388.75,126.48 389.00,126.21 389.25,125.99 389.50,125.83 389.75,125.74 390.00,125.70 390.25,125.72 390.50,125.77 390.75,125.85 391.00,125.97 391.25,126.13 391.50,126.32 391.75,126.54 392.00,126.79 392.25,127.08 392.50,127.39 392.75,127.72 393.00,128.09 393.25,128.47 393.50,128.88 393.75,129.30 394.00,129.75 394.25,130.20 394.50,130.67 394.75,131.15 395.00,131.63 395.25,132.12 395.50,132.60 395.75,133.09 396.00,133.57 396.25,134.05 396.50,134.52 396.75,134.97 397.00,135.41 397.25,135.84 397.50,136.24 397.75,136.63 398.00,136.99 398.25,137.33 398.50,137.64 398.75,137.92 399.00,138.17 399.25,138.39 399.50,138.58 399.75,138.73 400.00,138.85 400.25,138.94 400.50,138.99 400.75,139.00 401.00,138.97 401.25,138.90 401.50,138.79 401.75,138.63 402.00,138.43 402.25,138.19 402.50,137.91 402.75,137.59 403.00,137.24 403.25,136.85 403.50,136.43 403.75,135.98 404.00,135.50 404.25,135.00 404.50,134.47 404.75,133.93 405.00,133.37 405.25,132.79 405.50,132.21 405.75,131.62 406.00,131.02 406.25,130.43 406.50,129.83 406.75,129.25 407.00,128.67 407.25,128.11 407.50,127.56 407.75,127.03 408.00,126.52 408.25,126.04 408.50,125.58 408.75,125.15 409.00,124.75 409.25,124.39 409.50,124.06 409.75,123.77 410.00,123.52 410.25,123.31 410.50,123.15 410.75,123.02 411.00,122.94 411.25,122.90 411.50,122.92 411.75,123.01 412.00,123.19 412.25,123.45 412.50,123.79 412.75,124.21 413.00,124.70 413.25,125.27 413.50,125.91 413.75,126.62 414.00,127.39 414.25,128.22 414.50,129.11 414.75,130.04 415.00,131.02 415.25,132.04 415.50,133.09 415.75,134.18 416.00,135.28 416.25,136.40 416.50,137.54 416.75,138.67 417.00,139.81 417.25,140.94 417.50,142.05 417.75,143.15 418.00,144.22 418.25,145.25 418.50,146.25 418.75,147.21 419.00,148.12 419.25,148.98 419.50,149.79 419.75,150.53 420.00,151.20 420.25,151.81 420.50,152.34 420.75,152.80 421.00,153.18 421.25,153.48 421.50,153.71 421.75,153.84 422.00,153.90 422.25,153.88 422.50,153.82 422.75,153.70 423.00,153.53 423.25,153.32 423.50,153.06 423.75,152.75 424.00,152.40 424.25,152.01 424.50,151.58 424.75,151.11 425.00,150.61 425.25,150.08 425.50,149.51 425.75,148.92 426.00,148.31 426.25,147.68 426.50,147.03 426.75,146.37 427.00,145.70 427.25,145.02 427.50,144.34 427.75,143.67 428.00,143.00 428.25,142.34 428.50,141.70 428.75,141.07 429.00,140.46 429.25,139.87 429.50,139.31 429.75,138.79 430.00,138.29 430.25,137.83 430.50,137.41 430.75,137.02 431.00,136.68 431.25,136.38 431.50,136.13 431.75,135.93 432.00,135.77 432.25,135.67 432.50,135.61 432.75,135.60 433.00,135.65 433.25,135.76 433.50,135.91 433.75,136.13 434.00,136.39 434.25,136.71 434.50,137.08 434.75,137.50 435.00,137.96 435.25,138.46 435.50,139.01 435.75,139.59 436.00,140.21 436.25,140.86 436.50,141.54 436.75,142.24 437.00,142.96 437.25,143.70 437.50,144.45 437.75,145.21 438.00,145.97 438.25,146.73 438.50,147.49 438.75,148.24 439.00,148.98 439.25,149.70 439.50,150.41 439.75,151.08 440.00,151.74 440.25,152.36 440.50,152.94 440.75,153.49 441.00,154.00 441.25,154.47 441.50,154.89 441.75,155.26 442.00,155.58 442.25,155.85 442.50,156.07 442.75,156.23 443.00,156.34 443.25,156.39 443.50,156.39 443.75,156.32 444.00,156.19 444.25,156.00 444.50,155.75 444.75,155.43 445.00,155.06 445.25,154.63 445.50,154.15 445.75,153.62 446.00,153.04 446.25,152.41 446.50,151.75 446.75,151.04 447.00,150.30 447.25,149.53 447.50,148.74 447.75,147.92 448.00,147.08 448.25,146.24 448.50,145.38 448.75,144.53 449.00,143.67 449.25,142.82 449.50,141.98 449.75,141.16 450.00,140.35 450.25,139.57 450.50,138.82 450.75,138.10 451.00,137.42 451.25,136.78 451.50,136.18 451.75,135.63 452.00,135.13 452.25,134.69 452.50,134.29 452.75,133.96 453.00,133.68 453.25,133.47 453.50,133.32 453.75,133.23 454.00,133.20 454.25,133.22 454.50,133.29 454.75,133.39 455.00,133.53 455.25,133.71 455.50,133.92 455.75,134.17 456.00,134.46 456.25,134.77 456.50,135.12 456.75,135.50 457.00,135.90 457.25,136.34 457.50,136.79 457.75,137.26 458.00,137.75 458.25,138.26 458.50,138.78 458.75,139.30 459.00,139.84 459.25,140.38 459.50,140.92 459.75,141.45 460.00,141.99 460.25,142.51 460.50,143.03 460.75,143.53 461.00,144.01 461.25,144.48 461.50,144.92 461.75,145.34 462.00,145.74 462.25,146.11 462.50,146.45 462.75,146.75 463.00,147.02 463.25,147.26 463.50,147.46 463.75,147.63 464.00,147.75 464.25,147.84 464.50,147.89 464.75,147.90 465.00,147.80 465.25,147.59 465.50,147.26 465.75,146.82 466.00,146.26 466.25,145.59 466.50,144.82 466.75,143.94 467.00,142.96 467.25,141.90 467.50,140.74 467.75,139.51 468.00,138.20 468.25,136.83 468.50,135.40 468.75,133.92 469.00,132.39 469.25,130.83 469.50,129.25 469.75,127.65 470.00,126.04 470.25,124.42 470.50,122.82 470.75,121.24 471.00,119.68 471.25,118.16 471.50,116.68 471.75,115.26 472.00,113.89 472.25,112.59 472.50,111.36 472.75,110.21 473.00,109.15 473.25,108.19 473.50,107.32 473.75,106.55 474.00,105.89 474.25,105.34 474.50,104.91 474.75,104.59 475.00,104.39 475.25,104.30 475.50,104.33 475.75,104.48 476.00,104.73 476.25,105.08 476.50,105.54 476.75,106.11 477.00,106.77 477.25,107.53 477.50,108.38 477.75,109.32 478.00,110.34 478.25,111.43 478.50,112.60 478.75,113.83 479.00,115.12 479.25,116.46 479.50,117.84 479.75,119.26 480.00,120.71 480.25,122.18 480.50,123.66 480.75,125.14 481.00,126.63 481.25,128.10 481.50,129.55 481.75,130.98 482.00,132.37 482.25,133.72 482.50,135.02 482.75,136.26 483.00,137.44 483.25,138.55 483.50,139.59 483.75,140.54 484.00,141.41 484.25,142.19 484.50,142.87 484.75,143.45 485.00,143.93 485.25,144.31 485.50,144.58 485.75,144.75 486.00,144.80 486.25,144.76 486.50,144.65 486.75,144.47 487.00,144.22 487.25,143.90 487.50,143.51 487.75,143.06 488.00,142.54 488.25,141.96 488.50,141.33 488.75,140.64 489.00,139.90 489.25,139.11 489.50,138.29 489.75,137.42 490.00,136.53 490.25,135.60 490.50,134.66 490.75,133.69 491.00,132.72 491.25,131.74 491.50,130.75 491.75,129.77 492.00,128.80 492.25,127.85 492.50,126.91 492.75,126.00 493.00,125.12 493.25,124.28 493.50,123.47 493.75,122.71 494.00,122.00 494.25,121.34 494.50,120.73 494.75,120.18 495.00,119.70 495.25,119.28 495.50,118.92 495.75,118.64 496.00,118.42 496.25,118.28 496.50,118.21 496.75,118.21 497.00,118.32 497.25,118.54 497.50,118.85 497.75,119.27 498.00,119.80 498.25,120.41 498.50,121.13 498.75,121.93 499.00,122.82 499.25,123.79 499.50,124.83 499.75,125.95 500.00,127.13 500.25,128.37 500.50,129.66 500.75,130.99 501.00,132.37 501.25,133.77 501.50,135.19 501.75,136.63 502.00,138.07 502.25,139.52 502.50,140.95 502.75,142.37 503.00,143.77 503.25,145.13 503.50,146.45 503.75,147.73 504.00,148.96 504.25,150.12 504.50,151.22 504.75,152.25 505.00,153.20 505.25,154.07 505.50,154.85 505.75,155.54 506.00,156.14 506.25,156.64 506.50,157.03 506.75,157.32 507.00,157.51 507.25,157.60 507.50,157.59 507.75,157.52 508.00,157.39 508.25,157.21 508.50,156.98 508.75,156.69 509.00,156.35 509.25,155.97 509.50,155.53 509.75,155.05 510.00,154.53 510.25,153.97 510.50,153.37 510.75,152.74 511.00,152.08 511.25,151.39 511.50,150.68 511.75,149.95 512.00,149.21 512.25,148.46 512.50,147.70 512.75,146.93 513.00,146.17 513.25,145.42 513.50,144.68 513.75,143.95 514.00,143.24 514.25,142.55 514.50,141.89 514.75,141.26 515.00,140.66 515.25,140.09 515.50,139.57 515.75,139.09 516.00,138.65 516.25,138.26 516.50,137.92 516.75,137.63 517.00,137.40 517.25,137.21 517.50,137.09 517.75,137.02 518.00,137.00 518.25,137.09 518.50,137.31 518.75,137.64 519.00,138.10 519.25,138.67 519.50,139.36 519.75,140.15 520.00,141.05 520.25,142.06 520.50,143.16 520.75,144.35 521.00,145.62 521.25,146.97 521.50,148.39 521.75,149.87 522.00,151.40 522.25,152.98 522.50,154.60 522.75,156.24 523.00,157.91 523.25,159.58 523.50,161.26 523.75,162.93 524.00,164.58 524.25,166.21 524.50,167.80 524.75,169.35 525.00,170.85 525.25,172.29 525.50,173.66 525.75,174.96 526.00,176.17 526.25,177.30 526.50,178.34 526.75,179.27 527.00,180.10 527.25,180.82 527.50,181.43 527.75,181.92 528.00,182.30 528.25,182.55 528.50,182.68 528.75,182.68 529.00,182.50 529.25,182.14 529.50,181.59 529.75,180.85 530.00,179.94 530.25,178.85 530.50,177.59 530.75,176.18 531.00,174.61 531.25,172.89 531.50,171.04 531.75,169.06 532.00,166.97 532.25,164.78 532.50,162.49 532.75,160.13 533.00,157.70 533.25,155.21 533.50,152.69 533.75,150.15 534.00,147.59 534.25,145.03 534.50,142.50 534.75,139.99 535.00,137.52 535.25,135.12 535.50,132.79 535.75,130.53 536.00,128.38 536.25,126.33 536.50,124.41 536.75,122.61 537.00,120.95 537.25,119.44 537.50,118.08 537.75,116.89 538.00,115.88 538.25,115.03 538.50,114.37 538.75,113.89 539.00,113.60 539.25,113.50 539.50,113.56 539.75,113.77 540.00,114.11 540.25,114.58 540.50,115.19 540.75,115.93 541.00,116.79 541.25,117.77 541.50,118.87 541.75,120.08 542.00,121.39 542.25,122.80 542.50,124.30 542.75,125.88 543.00,127.53 543.25,129.24 543.50,131.01 543.75,132.82 544.00,134.66 544.25,136.53 544.50,138.42 544.75,140.31 545.00,142.19 545.25,144.06 545.50,145.90 545.75,147.71" stroke="#D95319" stroke-width="1.3" stroke-dasharray="3.2 2.6"/>
<polyline points="40.00,138.50 40.25,138.50 40.50,138.50 40.75,138.50 41.00,138.50 41.25,138.50 41.50,138.50 41.75,138.50 42.00,138.50 42.25,138.50 42.50,138.50 42.75,138.50 43.00,138.50 43.25,138.50 43.50,138.50 43.75,138.50 44.00,138.50 44.25,138.51 44.50,138.51 44.75,138.52 45.00,138.53 45.25,138.55 45.50,138.56 45.75,138.58 46.00,138.60 46.25,138.62 46.50,138.64 46.75,138.66 47.00,138.69 47.25,138.71 47.50,138.74 47.75,138.77 48.00,138.80 48.25,138.82 48.50,138.85 48.75,138.88 49.00,138.91 49.25,138.94 49.50,138.97 49.75,139.00 50.00,139.03 50.25,139.05 50.50,139.08 50.75,139.11 51.00,139.13 51.25,139.16 51.50,139.18 51.75,139.20 52.00,139.22 52.25,139.23 52.50,139.25 52.75,139.26 53.00,139.27 53.25,139.28 53.50,139.29 53.75,139.30 54.00,139.30 54.25,139.30 54.50,139.30 54.75,139.29 55.00,139.27 55.25,139.26 55.50,139.23 55.75,139.20 56.00,139.17 56.25,139.13 56.50,139.09 56.75,139.04 57.00,138.99 57.25,138.93 57.50,138.87 57.75,138.81 58.00,138.75 58.25,138.68 58.50,138.61 58.75,138.54 59.00,138.47 59.25,138.40 59.50,138.32 59.75,138.25 60.00,138.18 60.25,138.10 60.50,138.03 60.75,137.96 61.00,137.90 61.25,137.83 61.50,137.77 61.75,137.71 62.00,137.65 62.25,137.59 62.50,137.54 62.75,137.50 63.00,137.46 63.25,137.42 63.50,137.39 63.75,137.36 64.00,137.34 64.25,137.32 64.50,137.31 64.75,137.30 65.00,137.30 65.25,137.30 65.50,137.31 65.75,137.33 66.00,137.35 66.25,137.38 66.50,137.41 66.75,137.45 67.00,137.49 67.25,137.54 67.50,137.59 67.75,137.64 68.00,137.70 68.25,137.77 68.50,137.83 68.75,137.90 69.00,137.97 69.25,138.05 69.50,138.12 69.75,138.20 70.00,138.28 70.25,138.35 70.50,138.43 70.75,138.51 71.00,138.58 71.25,138.66 71.50,138.73 71.75,138.80 72.00,138.87 72.25,138.94 72.50,139.00 72.75,139.06 73.00,139.12 73.25,139.17 73.50,139.21 73.75,139.25 74.00,139.29 74.25,139.32 74.50,139.35 74.75,139.37 75.00,139.39 75.25,139.40 75.50,139.40 75.75,139.40 76.00,139.39 76.25,139.38 76.50,139.36 76.75,139.33 77.00,139.30 77.25,139.27 77.50,139.22 77.75,139.18 78.00,139.13 78.25,139.07 78.50,139.01 78.75,138.95 79.00,138.88 79.25,138.81 79.50,138.74 79.75,138.66 80.00,138.59 80.25,138.51 80.50,138.43 80.75,138.35 81.00,138.27 81.25,138.19 81.50,138.11 81.75,138.03 82.00,137.95 82.25,137.88 82.50,137.80 82.75,137.73 83.00,137.66 83.25,137.60 83.50,137.54 83.75,137.48 84.00,137.43 84.25,137.38 84.50,137.34 84.75,137.30 85.00,137.27 85.25,137.25 85.50,137.23 85.75,137.21 86.00,137.20 86.25,137.20 86.50,137.20 86.75,137.21 87.00,137.23 87.25,137.25 87.50,137.28 87.75,137.31 88.00,137.35 88.25,137.40 88.50,137.45 88.75,137.50 89.00,137.56 89.25,137.62 89.50,137.69 89.75,137.76 90.00,137.84 90.25,137.92 90.50,138.00 90.75,138.08 91.00,138.16 91.25,138.24 91.50,138.33 91.75,138.41 92.00,138.50 92.25,138.58 92.50,138.67 92.75,138.75 93.00,138.83 93.25,138.90 93.50,138.97 93.75,139.04 94.00,139.11 94.25,139.17 94.50,139.23 94.75,139.28 95.00,139.33 95.25,139.37 95.50,139.41 95.75,139.44 96.00,139.46 96.25,139.48 96.50,139.49 96.75,139.50 97.00,139.50 97.25,139.49 97.50,139.48 97.75,139.46 98.00,139.43 98.25,139.40 98.50,139.37 98.75,139.32 99.00,139.27 99.25,139.22 99.50,139.16 99.75,139.10 100.00,139.03 100.25,138.96 100.50,138.88 100.75,138.80 101.00,138.72 101.25,138.64 101.50,138.55 101.75,138.47 102.00,138.38 102.25,138.29 102.50,138.20 102.75,138.11 103.00,138.03 103.25,137.94 103.50,137.86 103.75,137.78 104.00,137.70 104.25,137.63 104.50,137.56 104.75,137.49 105.00,137.43 105.25,137.37 105.50,137.31 105.75,137.27 106.00,137.23 106.25,137.19 106.50,137.16 106.75,137.13 107.00,137.12 107.25,137.11 107.50,137.10 107.75,137.10 108.00,137.11 108.25,137.13 108.50,137.15 108.75,137.18 109.00,137.21 109.25,137.25 109.50,137.30 109.75,137.35 110.00,137.41 110.25,137.47 110.50,137.54 110.75,137.61 111.00,137.69 111.25,137.77 111.50,137.85 111.75,137.94 112.00,138.03 112.25,138.12 112.50,138.21 112.75,138.30 113.00,138.39 113.25,138.49 113.50,138.58 113.75,138.67 114.00,138.76 114.25,138.84 114.50,138.93 114.75,139.01 115.00,139.08 115.25,139.16 115.50,139.22 115.75,139.29 116.00,139.35 116.25,139.40 116.50,139.45 116.75,139.49 117.00,139.52 117.25,139.55 117.50,139.57 117.75,139.59 118.00,139.60 118.25,139.60 118.50,139.59 118.75,139.58 119.00,139.56 119.25,139.54 119.50,139.51 119.75,139.47 120.00,139.42 120.25,139.37 120.50,139.31 120.75,139.25 121.00,139.18 121.25,139.11 121.50,139.03 121.75,138.95 122.00,138.87 122.25,138.78 122.50,138.69 122.75,138.60 123.00,138.51 123.25,138.41 123.50,138.32 123.75,138.22 124.00,138.12 124.25,138.03 124.50,137.94 124.75,137.85 125.00,137.76 125.25,137.67 125.50,137.59 125.75,137.51 126.00,137.44 126.25,137.37 126.50,137.31 126.75,137.25 127.00,137.20 127.25,137.15 127.50,137.11 127.75,137.07 128.00,137.04 128.25,137.02 128.50,137.01 128.75,137.00 129.00,137.00 129.25,137.01 129.50,137.02 129.75,137.04 130.00,137.07 130.25,137.11 130.50,137.15 130.75,137.20 131.00,137.25 131.25,137.32 131.50,137.38 131.75,137.46 132.00,137.53 132.25,137.61 132.50,137.70 132.75,137.79 133.00,137.88 133.25,137.98 133.50,138.07 133.75,138.17 134.00,138.27 134.25,138.37 134.50,138.47 134.75,138.57 135.00,138.67 135.25,138.76 135.50,138.86 135.75,138.95 136.00,139.04 136.25,139.12 136.50,139.20 136.75,139.27 137.00,139.34 137.25,139.41 137.50,139.47 137.75,139.52 138.00,139.57 138.25,139.61 138.50,139.64 138.75,139.67 139.00,139.68 139.25,139.70 139.50,139.70 139.75,139.70 140.00,139.69 140.25,139.67 140.50,139.64 140.75,139.61 141.00,139.57 141.25,139.52 141.50,139.47 141.75,139.41 142.00,139.34 142.25,139.27 142.50,139.19 142.75,139.11 143.00,139.03 143.25,138.94 143.50,138.84 143.75,138.75 144.00,138.65 144.25,138.55 144.50,138.45 144.75,138.35 145.00,138.24 145.25,138.14 145.50,138.04 145.75,137.94 146.00,137.84 146.25,137.74 146.50,137.65 146.75,137.56 147.00,137.48 147.25,137.40 147.50,137.32 147.75,137.25 148.00,137.18 148.25,137.13 148.50,137.07 148.75,137.03 149.00,136.99 149.25,136.96 149.50,136.93 149.75,136.91 150.00,136.90 150.25,136.90 150.50,136.91 150.75,136.92 151.00,136.94 151.25,136.97 151.50,137.00 151.75,137.05 152.00,137.10 152.25,137.16 152.50,137.22 152.75,137.29 153.00,137.37 153.25,137.45 153.50,137.53 153.75,137.62 154.00,137.72 154.25,137.82 154.50,137.92 154.75,138.02 155.00,138.13 155.25,138.23 155.50,138.34 155.75,138.45 156.00,138.56 156.25,138.66 156.50,138.76 156.75,138.87 157.00,138.96 157.25,139.06 157.50,139.15 157.75,139.24 158.00,139.32 158.25,139.40 158.50,139.47 158.75,139.53 159.00,139.59 159.25,139.64 159.50,139.69 159.75,139.73 160.00,139.76 160.25,139.78 160.50,139.79 160.75,139.80 161.00,139.80 161.25,139.79 161.50,139.77 161.75,139.75 162.00,139.71 162.25,139.67 162.50,139.62 162.75,139.57 163.00,139.51 163.25,139.44 163.50,139.36 163.75,139.28 164.00,139.20 164.25,139.11 164.50,139.01 164.75,138.91 165.00,138.81 165.25,138.70 165.50,138.60 165.75,138.49 166.00,138.38 166.25,138.27 166.50,138.16 166.75,138.05 167.00,137.94 167.25,137.84 167.50,137.73 167.75,137.63 168.00,137.54 168.25,137.44 168.50,137.36 168.75,137.27 169.00,137.20 169.25,137.12 169.50,137.06 169.75,137.00 170.00,136.95 170.25,136.90 170.50,136.87 170.75,136.84 171.00,136.82 171.25,136.81 171.50,136.80 171.75,136.80 172.00,136.81 172.25,136.84 172.50,136.86 172.75,136.90 173.00,136.94 173.25,137.00 173.50,137.06 173.75,137.12 174.00,137.20 174.25,137.28 174.50,137.36 174.75,137.45 175.00,137.55 175.25,137.65 175.50,137.75 175.75,137.86 176.00,137.97 176.25,138.08 176.50,138.19 176.75,138.31 177.00,138.42 177.25,138.54 177.50,138.65 177.75,138.76 178.00,138.87 178.25,138.98 178.50,139.08 178.75,139.18 179.00,139.27 179.25,139.36 179.50,139.45 179.75,139.53 180.00,139.60 180.25,139.66 180.50,139.72 180.75,139.77 181.00,139.81 181.25,139.85 181.50,139.87 181.75,139.89 182.00,139.90 182.25,139.90 182.50,139.89 182.75,139.87 183.00,139.85 183.25,139.81 183.50,139.77 183.75,139.72 184.00,139.66 184.25,139.60 184.50,139.52 184.75,139.44 185.00,139.36 185.25,139.26 185.50,139.16 185.75,139.06 186.00,138.95 186.25,138.84 186.50,138.73 186.75,138.61 187.00,138.49 187.25,138.37 187.50,138.25 187.75,138.13 188.00,138.01 188.25,137.89 188.50,137.77 188.75,137.66 189.00,137.55 189.25,137.44 189.50,137.34 189.75,137.24 190.00,137.14 190.25,137.06 190.50,136.98 190.75,136.90 191.00,136.84 191.25,136.78 191.50,136.73 191.75,136.69 192.00,136.65 192.25,136.63 192.50,136.61 192.75,136.60 193.00,136.60 193.25,136.61 193.50,136.63 193.75,136.66 194.00,136.70 194.25,136.74 194.50,136.80 194.75,136.86 195.00,136.93 195.25,137.01 195.50,137.10 195.75,137.19 196.00,137.29 196.25,137.39 196.50,137.50 196.75,137.61 197.00,137.73 197.25,137.85 197.50,137.97 197.75,138.09 198.00,138.22 198.25,138.35 198.50,138.47 198.75,138.60 199.00,138.72 199.25,138.84 199.50,138.96 199.75,139.07 200.00,139.18 200.25,139.29 200.50,139.39 200.75,139.48 201.00,139.57 201.25,139.65 201.50,139.72 201.75,139.78 202.00,139.84 202.25,139.89 202.50,139.93 202.75,139.96 203.00,139.98 203.25,140.00 203.50,140.00 203.75,139.99 204.00,139.98 204.25,139.95 204.50,139.92 204.75,139.87 205.00,139.82 205.25,139.76 205.50,139.69 205.75,139.61 206.00,139.53 206.25,139.43 206.50,139.33 206.75,139.23 207.00,139.12 207.25,139.00 207.50,138.88 207.75,138.76 208.00,138.63 208.25,138.50 208.50,138.37 208.75,138.24 209.00,138.10 209.25,137.97 209.50,137.84 209.75,137.71 210.00,137.59 210.25,137.47 210.50,137.35 210.75,137.23 211.00,137.12 211.25,137.02 211.50,136.93 211.75,136.84 212.00,136.75 212.25,136.68 212.50,136.61 212.75,136.55 213.00,136.51 213.25,136.47 213.50,136.43 213.75,136.41 214.00,136.40 214.25,136.40 214.50,136.41 214.75,136.43 215.00,136.45 215.25,136.49 215.50,136.54 215.75,136.59 216.00,136.66 216.25,136.73 216.50,136.81 216.75,136.90 217.00,136.99 217.25,137.10 217.50,137.20 217.75,137.32 218.00,137.44 218.25,137.56 218.50,137.69 218.75,137.81 219.00,137.95 219.25,138.08 219.50,138.21 219.75,138.34 220.00,138.48 220.25,138.61 220.50,138.73 220.75,138.86 221.00,138.98 221.25,139.10 221.50,139.21 221.75,139.32 222.00,139.42 222.25,139.52 222.50,139.60 222.75,139.68 223.00,139.75 223.25,139.82 223.50,139.87 223.75,139.92 224.00,139.95 224.25,139.98 224.50,139.99 224.75,140.00 225.00,140.00 225.25,139.98 225.50,139.95 225.75,139.91 226.00,139.86 226.25,139.80 226.50,139.72 226.75,139.64 227.00,139.54 227.25,139.44 227.50,139.32 227.75,139.20 228.00,139.07 228.25,138.94 228.50,138.79 228.75,138.64 229.00,138.49 229.25,138.33 229.50,138.17 229.75,138.01 230.00,137.84 230.25,137.68 230.50,137.51 230.75,137.35 231.00,137.19 231.25,137.03 231.50,136.88 231.75,136.73 232.00,136.58 232.25,136.44 232.50,136.31 232.75,136.19 233.00,136.07 233.25,135.97 233.50,135.87 233.75,135.79 234.00,135.71 234.25,135.65 234.50,135.59 234.75,135.55 235.00,135.52 235.25,135.51 235.50,135.50 235.75,135.51 236.00,135.53 236.25,135.56 236.50,135.60 236.75,135.66 237.00,135.73 237.25,135.80 237.50,135.89 237.75,136.00 238.00,136.11 238.25,136.22 238.50,136.35 238.75,136.49 239.00,136.63 239.25,136.78 239.50,136.94 239.75,137.10 240.00,137.26 240.25,137.43 240.50,137.60 240.75,137.77 241.00,137.94 241.25,138.11 241.50,138.27 241.75,138.44 242.00,138.60 242.25,138.76 242.50,138.91 242.75,139.05 243.00,139.19 243.25,139.32 243.50,139.45 243.75,139.56 244.00,139.67 244.25,139.76 244.50,139.84 244.75,139.92 245.00,139.98 245.25,140.03 245.50,140.06 245.75,140.09 246.00,140.10 246.25,140.10 246.50,140.08 246.75,140.06 247.00,140.01 247.25,139.96 247.50,139.89 247.75,139.81 248.00,139.72 248.25,139.61 248.50,139.50 248.75,139.37 249.00,139.24 249.25,139.09 249.50,138.94 249.75,138.78 250.00,138.61 250.25,138.44 250.50,138.26 250.75,138.08 251.00,137.89 251.25,137.71 251.50,137.52 251.75,137.33 252.00,137.15 252.25,136.96 252.50,136.78 252.75,136.61 253.00,136.44 253.25,136.27 253.50,136.11 253.75,135.96 254.00,135.82 254.25,135.69 254.50,135.56 254.75,135.45 255.00,135.35 255.25,135.26 255.50,135.19 255.75,135.12 256.00,135.07 256.25,135.03 256.50,135.01 256.75,135.00 257.00,135.00 257.25,135.02 257.50,135.06 257.75,135.11 258.00,135.17 258.25,135.25 258.50,135.34 258.75,135.45 259.00,135.57 259.25,135.70 259.50,135.84 259.75,135.99 260.00,136.16 260.25,136.33 260.50,136.51 260.75,136.70 261.00,136.89 261.25,137.09 261.50,137.29 261.75,137.49 262.00,137.70 262.25,137.91 262.50,138.11 262.75,138.32 263.00,138.52 263.25,138.72 263.50,138.91 263.75,139.10 264.00,139.28 264.25,139.45 264.50,139.61 264.75,139.77 265.00,139.91 265.25,140.04 265.50,140.16 265.75,140.26 266.00,140.35 266.25,140.43 266.50,140.49 266.75,140.54 267.00,140.58 267.25,140.60 267.50,140.60 267.75,140.59 268.00,140.55 268.25,140.50 268.50,140.44 268.75,140.36 269.00,140.26 269.25,140.14 269.50,140.01 269.75,139.86 270.00,139.70 270.25,139.53 270.50,139.35 270.75,139.15 271.00,138.95 271.25,138.73 271.50,138.51 271.75,138.28 272.00,138.05 272.25,137.81 272.50,137.57 272.75,137.33 273.00,137.09 273.25,136.85 273.50,136.61 273.75,136.37 274.00,136.14 274.25,135.92 274.50,135.70 274.75,135.50 275.00,135.30 275.25,135.11 275.50,134.94 275.75,134.77 276.00,134.62 276.25,134.49 276.50,134.37 276.75,134.27 277.00,134.18 277.25,134.11 277.50,134.06 277.75,134.02 278.00,134.00 278.25,134.00 278.50,134.02 278.75,134.06 279.00,134.13 279.25,134.21 279.50,134.31 279.75,134.43 280.00,134.57 280.25,134.72 280.50,134.90 280.75,135.09 281.00,135.29 281.25,135.51 281.50,135.74 281.75,135.98 282.00,136.23 282.25,136.49 282.50,136.76 282.75,137.03 283.00,137.31 283.25,137.59 283.50,137.87 283.75,138.15 284.00,138.43 284.25,138.70 284.50,138.97 284.75,139.24 285.00,139.49 285.25,139.74 285.50,139.97 285.75,140.20 286.00,140.41 286.25,140.61 286.50,140.79 286.75,140.95 287.00,141.10 287.25,141.23 287.50,141.34 287.75,141.43 288.00,141.51 288.25,141.56 288.50,141.59 288.75,141.60 289.00,141.59 289.25,141.57 289.50,141.53 289.75,141.48 290.00,141.41 290.25,141.33 290.50,141.23 290.75,141.12 291.00,141.00 291.25,140.87 291.50,140.72 291.75,140.56 292.00,140.40 292.25,140.22 292.50,140.04 292.75,139.85 293.00,139.65 293.25,139.45 293.50,139.25 293.75,139.04 294.00,138.83 294.25,138.62 294.50,138.42 294.75,138.21 295.00,138.01 295.25,137.81 295.50,137.61 295.75,137.42 296.00,137.24 296.25,137.07 296.50,136.90 296.75,136.75 297.00,136.61 297.25,136.47 297.50,136.35 297.75,136.25 298.00,136.15 298.25,136.08 298.50,136.01 298.75,135.96 299.00,135.92 299.25,135.90 299.50,135.90 299.75,135.92 300.00,135.96 300.25,136.02 300.50,136.11 300.75,136.23 301.00,136.36 301.25,136.52 301.50,136.69 301.75,136.89 302.00,137.11 302.25,137.34 302.50,137.59 302.75,137.86 303.00,138.14 303.25,138.43 303.50,138.73 303.75,139.04 304.00,139.36 304.25,139.68 304.50,140.01 304.75,140.34 305.00,140.67 305.25,140.99 305.50,141.32 305.75,141.63 306.00,141.95 306.25,142.25 306.50,142.54 306.75,142.82 307.00,143.09 307.25,143.34 307.50,143.57 307.75,143.79 308.00,143.99 308.25,144.17 308.50,144.33 308.75,144.47 309.00,144.58 309.25,144.67 309.50,144.74 309.75,144.78 310.00,144.80 310.25,144.79 310.50,144.75 310.75,144.67 311.00,144.56 311.25,144.42 311.50,144.25 311.75,144.04 312.00,143.81 312.25,143.54 312.50,143.25 312.75,142.93 313.00,142.59 313.25,142.23 313.50,141.84 313.75,141.44 314.00,141.02 314.25,140.59 314.50,140.14 314.75,139.69 315.00,139.23 315.25,138.77 315.50,138.30 315.75,137.84 316.00,137.37 316.25,136.92 316.50,136.47 316.75,136.03 317.00,135.61 317.25,135.20 317.50,134.81 317.75,134.44 318.00,134.09 318.25,133.76 318.50,133.46 318.75,133.18 319.00,132.94 319.25,132.72 319.50,132.54 319.75,132.38 320.00,132.26 320.25,132.17 320.50,132.12 320.75,132.10 321.00,132.11 321.25,132.14 321.50,132.20 321.75,132.27 322.00,132.37 322.25,132.49 322.50,132.63 322.75,132.78 323.00,132.96 323.25,133.15 323.50,133.37 323.75,133.59 324.00,133.83 324.25,134.09 324.50,134.35 324.75,134.63 325.00,134.91 325.25,135.20 325.50,135.50 325.75,135.80 326.00,136.10 326.25,136.41 326.50,136.71 326.75,137.01 327.00,137.30 327.25,137.59 327.50,137.87 327.75,138.14 328.00,138.41 328.25,138.65 328.50,138.89 328.75,139.11 329.00,139.32 329.25,139.51 329.50,139.68 329.75,139.83 330.00,139.96 330.25,140.07 330.50,140.16 330.75,140.23 331.00,140.27 331.25,140.30 331.50,140.30 331.75,140.26 332.00,140.19 332.25,140.09 332.50,139.95 332.75,139.77 333.00,139.57 333.25,139.33 333.50,139.05 333.75,138.75 334.00,138.43 334.25,138.07 334.50,137.70 334.75,137.30 335.00,136.88 335.25,136.44 335.50,135.99 335.75,135.52 336.00,135.04 336.25,134.56 336.50,134.07 336.75,133.58 337.00,133.09 337.25,132.60 337.50,132.12 337.75,131.64 338.00,131.18 338.25,130.73 338.50,130.29 338.75,129.87 339.00,129.47 339.25,129.10 339.50,128.75 339.75,128.42 340.00,128.12 340.25,127.85 340.50,127.62 340.75,127.41 341.00,127.24 341.25,127.10 341.50,127.00 341.75,126.93 342.00,126.90 342.25,126.91 342.50,126.96 342.75,127.05 343.00,127.18 343.25,127.36 343.50,127.57 343.75,127.83 344.00,128.12 344.25,128.45 344.50,128.81 344.75,129.21 345.00,129.63 345.25,130.09 345.50,130.57 345.75,131.07 346.00,131.59 346.25,132.13 346.50,132.68 346.75,133.25 347.00,133.82 347.25,134.40 347.50,134.98 347.75,135.56 348.00,136.14 348.25,136.70 348.50,137.26 348.75,137.80 349.00,138.33 349.25,138.83 349.50,139.32 349.75,139.78 350.00,140.21 350.25,140.61 350.50,140.98 350.75,141.32 351.00,141.62 351.25,141.88 351.50,142.10 351.75,142.29 352.00,142.43 352.25,142.53 352.50,142.58 352.75,142.60 353.00,142.58 353.25,142.53 353.50,142.45 353.75,142.34 354.00,142.21 354.25,142.04 354.50,141.85 354.75,141.63 355.00,141.39 355.25,141.13 355.50,140.84 355.75,140.53 356.00,140.21 356.25,139.86 356.50,139.50 356.75,139.13 357.00,138.75 357.25,138.36 357.50,137.96 357.75,137.55 358.00,137.15 358.25,136.74 358.50,136.34 358.75,135.93 359.00,135.54 359.25,135.15 359.50,134.77 359.75,134.41 360.00,134.06 360.25,133.72 360.50,133.41 360.75,133.11 361.00,132.83 361.25,132.58 361.50,132.35 361.75,132.15 362.00,131.97 362.25,131.82 362.50,131.70 362.75,131.60 363.00,131.54 363.25,131.51 363.50,131.50 363.75,131.54 364.00,131.63 364.25,131.75 364.50,131.93 364.75,132.14 365.00,132.40 365.25,132.70 365.50,133.04 365.75,133.41 366.00,133.82 366.25,134.26 366.50,134.73 366.75,135.23 367.00,135.76 367.25,136.30 367.50,136.87 367.75,137.45 368.00,138.05 368.25,138.65 368.50,139.26 368.75,139.87 369.00,140.49 369.25,141.10 369.50,141.70 369.75,142.29 370.00,142.87 370.25,143.43 370.50,143.97 370.75,144.49 371.00,144.98 371.25,145.45 371.50,145.88 371.75,146.28 372.00,146.65 372.25,146.98 372.50,147.26 372.75,147.51 373.00,147.72 373.25,147.88 373.50,148.00 373.75,148.07 374.00,148.10 374.25,148.09 374.50,148.04 374.75,147.95 375.00,147.83 375.25,147.68 375.50,147.49 375.75,147.27 376.00,147.02 376.25,146.74 376.50,146.43 376.75,146.09 377.00,145.73 377.25,145.34 377.50,144.94 377.75,144.51 378.00,144.07 378.25,143.62 378.50,143.15 378.75,142.67 379.00,142.19 379.25,141.70 379.50,141.22 379.75,140.73 380.00,140.25 380.25,139.77 380.50,139.30 380.75,138.85 381.00,138.40 381.25,137.98 381.50,137.57 381.75,137.19 382.00,136.82 382.25,136.49 382.50,136.18 382.75,135.89 383.00,135.64 383.25,135.42 383.50,135.23 383.75,135.07 384.00,134.95 384.25,134.87 384.50,134.82 384.75,134.80 385.00,134.82 385.25,134.88 385.50,134.98 385.75,135.12 386.00,135.29 386.25,135.50 386.50,135.74 386.75,136.02 387.00,136.33 387.25,136.67 387.50,137.04 387.75,137.43 388.00,137.85 388.25,138.29 388.50,138.75 388.75,139.22 389.00,139.72 389.25,140.22 389.50,140.73 389.75,141.25 390.00,141.77 390.25,142.29 390.50,142.81 390.75,143.32 391.00,143.83 391.25,144.32 391.50,144.80 391.75,145.27 392.00,145.71 392.25,146.14 392.50,146.54 392.75,146.92 393.00,147.26 393.25,147.58 393.50,147.87 393.75,148.12 394.00,148.35 394.25,148.53 394.50,148.68 394.75,148.79 395.00,148.86 395.25,148.90 395.50,148.89 395.75,148.82 396.00,148.69 396.25,148.50 396.50,148.25 396.75,147.93 397.00,147.57 397.25,147.14 397.50,146.66 397.75,146.14 398.00,145.56 398.25,144.94 398.50,144.28 398.75,143.58 399.00,142.85 399.25,142.09 399.50,141.30 399.75,140.49 400.00,139.67 400.25,138.83 400.50,137.98 400.75,137.13 401.00,136.28 401.25,135.43 401.50,134.60 401.75,133.78 402.00,132.98 402.25,132.20 402.50,131.45 402.75,130.73 403.00,130.05 403.25,129.40 403.50,128.80 403.75,128.25 404.00,127.74 404.25,127.28 404.50,126.88 404.75,126.53 405.00,126.25 405.25,126.02 405.50,125.85 405.75,125.74 406.00,125.70 406.25,125.71 406.50,125.75 406.75,125.82 407.00,125.93 407.25,126.06 407.50,126.23 407.75,126.42 408.00,126.64 408.25,126.89 408.50,127.16 408.75,127.45 409.00,127.77 409.25,128.11 409.50,128.47 409.75,128.84 410.00,129.23 410.25,129.63 410.50,130.04 410.75,130.46 411.00,130.88 411.25,131.31 411.50,131.74 411.75,132.17 412.00,132.59 412.25,133.01 412.50,133.42 412.75,133.82 413.00,134.20 413.25,134.58 413.50,134.93 413.75,135.27 414.00,135.58 414.25,135.88 414.50,136.15 414.75,136.39 415.00,136.61 415.25,136.80 415.50,136.96 415.75,137.09 416.00,137.19 416.25,137.26 416.50,137.29 416.75,137.30 417.00,137.27 417.25,137.20 417.50,137.10 417.75,136.96 418.00,136.78 418.25,136.57 418.50,136.33 418.75,136.05 419.00,135.75 419.25,135.41 419.50,135.05 419.75,134.67 420.00,134.26 420.25,133.83 420.50,133.38 420.75,132.91 421.00,132.44 421.25,131.95 421.50,131.45 421.75,130.95 422.00,130.44 422.25,129.93 422.50,129.43 422.75,128.93 423.00,128.44 423.25,127.96 423.50,127.50 423.75,127.04 424.00,126.61 424.25,126.20 424.50,125.81 424.75,125.44 425.00,125.10 425.25,124.79 425.50,124.51 425.75,124.27 426.00,124.05 426.25,123.87 426.50,123.72 426.75,123.61 427.00,123.54 427.25,123.50 427.50,123.51 427.75,123.56 428.00,123.66 428.25,123.82 428.50,124.03 428.75,124.28 429.00,124.58 429.25,124.93 429.50,125.32 429.75,125.76 430.00,126.23 430.25,126.74 430.50,127.29 430.75,127.87 431.00,128.47 431.25,129.10 431.50,129.75 431.75,130.42 432.00,131.10 432.25,131.79 432.50,132.49 432.75,133.20 433.00,133.90 433.25,134.59 433.50,135.28 433.75,135.96 434.00,136.62 434.25,137.26 434.50,137.87 434.75,138.46 435.00,139.02 435.25,139.55 435.50,140.04 435.75,140.49 436.00,140.90 436.25,141.27 436.50,141.59 436.75,141.87 437.00,142.10 437.25,142.27 437.50,142.40 437.75,142.48 438.00,142.50 438.25,142.48 438.50,142.43 438.75,142.34 439.00,142.22 439.25,142.07 439.50,141.89 439.75,141.67 440.00,141.43 440.25,141.15 440.50,140.85 440.75,140.53 441.00,140.18 441.25,139.81 441.50,139.42 441.75,139.01 442.00,138.58 442.25,138.15 442.50,137.70 442.75,137.24 443.00,136.78 443.25,136.32 443.50,135.85 443.75,135.39 444.00,134.93 444.25,134.47 444.50,134.03 444.75,133.60 445.00,133.18 445.25,132.77 445.50,132.39 445.75,132.02 446.00,131.68 446.25,131.36 446.50,131.07 446.75,130.80 447.00,130.57 447.25,130.36 447.50,130.18 447.75,130.04 448.00,129.93 448.25,129.85 448.50,129.81 448.75,129.80 449.00,129.87 449.25,130.02 449.50,130.27 449.75,130.60 450.00,131.01 450.25,131.51 450.50,132.09 450.75,132.74 451.00,133.47 451.25,134.27 451.50,135.13 451.75,136.05 452.00,137.03 452.25,138.06 452.50,139.13 452.75,140.24 453.00,141.38 453.25,142.55 453.50,143.74 453.75,144.94 454.00,146.15 454.25,147.36 454.50,148.56 454.75,149.75 455.00,150.92 455.25,152.06 455.50,153.17 455.75,154.24 456.00,155.27 456.25,156.25 456.50,157.17 456.75,158.03 457.00,158.83 457.25,159.56 457.50,160.21 457.75,160.79 458.00,161.29 458.25,161.70 458.50,162.03 458.75,162.28 459.00,162.43 459.25,162.50 459.50,162.48 459.75,162.37 460.00,162.18 460.25,161.90 460.50,161.55 460.75,161.11 461.00,160.60 461.25,160.01 461.50,159.35 461.75,158.63 462.00,157.84 462.25,156.99 462.50,156.08 462.75,155.13 463.00,154.13 463.25,153.09 463.50,152.01 463.75,150.91 464.00,149.78 464.25,148.64 464.50,147.49 464.75,146.33 465.00,145.18 465.25,144.04 465.50,142.90 465.75,141.80 466.00,140.71 466.25,139.66 466.50,138.65 466.75,137.68 467.00,136.76 467.25,135.89 467.50,135.09 467.75,134.34 468.00,133.66 468.25,133.06 468.50,132.52 468.75,132.07 469.00,131.69 469.25,131.39 469.50,131.18 469.75,131.05 470.00,131.00 470.25,131.02 470.50,131.10 470.75,131.22 471.00,131.39 471.25,131.62 471.50,131.88 471.75,132.20 472.00,132.56 472.25,132.96 472.50,133.40 472.75,133.88 473.00,134.39 473.25,134.93 473.50,135.51 473.75,136.11 474.00,136.73 474.25,137.37 474.50,138.03 474.75,138.70 475.00,139.38 475.25,140.06 475.50,140.74 475.75,141.42 476.00,142.10 476.25,142.76 476.50,143.41 476.75,144.05 477.00,144.66 477.25,145.25 477.50,145.81 477.75,146.34 478.00,146.84 478.25,147.30 478.50,147.72 478.75,148.11 479.00,148.45 479.25,148.74 479.50,148.99 479.75,149.19 480.00,149.34 480.25,149.44 480.50,149.49 480.75,149.49 481.00,149.38 481.25,149.16 481.50,148.84 481.75,148.41 482.00,147.88 482.25,147.25 482.50,146.52 482.75,145.69 483.00,144.78 483.25,143.78 483.50,142.71 483.75,141.56 484.00,140.35 484.25,139.07 484.50,137.75 484.75,136.37 485.00,134.96 485.25,133.52 485.50,132.05 485.75,130.57 486.00,129.08 486.25,127.59 486.50,126.11 486.75,124.65 487.00,123.21 487.25,121.80 487.50,120.44 487.75,119.12 488.00,117.85 488.25,116.65 488.50,115.51 488.75,114.45 489.00,113.47 489.25,112.57 489.50,111.76 489.75,111.05 490.00,110.43 490.25,109.91 490.50,109.50 490.75,109.19 491.00,109.00 491.25,108.91 491.50,108.92 491.75,109.03 492.00,109.22 492.25,109.50 492.50,109.87 492.75,110.32 493.00,110.85 493.25,111.46 493.50,112.14 493.75,112.90 494.00,113.73 494.25,114.61 494.50,115.56 494.75,116.55 495.00,117.60 495.25,118.68 495.50,119.81 495.75,120.96 496.00,122.13 496.25,123.32 496.50,124.53 496.75,125.73 497.00,126.93 497.25,128.13 497.50,129.30 497.75,130.46 498.00,131.58 498.25,132.67 498.50,133.72 498.75,134.73 499.00,135.68 499.25,136.57 499.50,137.40 499.75,138.17 500.00,138.86 500.25,139.48 500.50,140.02 500.75,140.48 501.00,140.86 501.25,141.15 501.50,141.36 501.75,141.47 502.00,141.50 502.25,141.43 502.50,141.25 502.75,140.98 503.00,140.61 503.25,140.14 503.50,139.58 503.75,138.93 504.00,138.19 504.25,137.36 504.50,136.46 504.75,135.48 505.00,134.43 505.25,133.32 505.50,132.15 505.75,130.94 506.00,129.67 506.25,128.37 506.50,127.04 506.75,125.68 507.00,124.31 507.25,122.93 507.50,121.54 507.75,120.17 508.00,118.80 508.25,117.46 508.50,116.15 508.75,114.87 509.00,113.63 509.25,112.44 509.50,111.30 509.75,110.23 510.00,109.22 510.25,108.29 510.50,107.43 510.75,106.66 511.00,105.97 511.25,105.37 511.50,104.86 511.75,104.45 512.00,104.14 512.25,103.93 512.50,103.82 512.75,103.81 513.00,103.95 513.25,104.23 513.50,104.66 513.75,105.23 514.00,105.94 514.25,106.80 514.50,107.78 514.75,108.89 515.00,110.12 515.25,111.47 515.50,112.92 515.75,114.48 516.00,116.12 516.25,117.85 516.50,119.64 516.75,121.50 517.00,123.41 517.25,125.37 517.50,127.35 517.75,129.36 518.00,131.37 518.25,133.38 518.50,135.38 518.75,137.36 519.00,139.30 519.25,141.20 519.50,143.04 519.75,144.81 520.00,146.51 520.25,148.13 520.50,149.65 520.75,151.07 521.00,152.38 521.25,153.58 521.50,154.65 521.75,155.59 522.00,156.40 522.25,157.07 522.50,157.60 522.75,157.98 523.00,158.21 523.25,158.30 523.50,158.26 523.75,158.14 524.00,157.92 524.25,157.62 524.50,157.23 524.75,156.76 525.00,156.20 525.25,155.57 525.50,154.87 525.75,154.09 526.00,153.25 526.25,152.34 526.50,151.38 526.75,150.36 527.00,149.30 527.25,148.20 527.50,147.06 527.75,145.89 528.00,144.71 528.25,143.50 528.50,142.28 528.75,141.07 529.00,139.85 529.25,138.65 529.50,137.46 529.75,136.29 530.00,135.16 530.25,134.06 530.50,133.00 530.75,131.98 531.00,131.02 531.25,130.12 531.50,129.28 531.75,128.50 532.00,127.80 532.25,127.17 532.50,126.62 532.75,126.15 533.00,125.77 533.25,125.47 533.50,125.26 533.75,125.13 534.00,125.10 534.25,125.20 534.50,125.45 534.75,125.85 535.00,126.41 535.25,127.12 535.50,127.96 535.75,128.95 536.00,130.08 536.25,131.33 536.50,132.70 536.75,134.19 537.00,135.78 537.25,137.47 537.50,139.25 537.75,141.11 538.00,143.03 538.25,145.01 538.50,147.04 538.75,149.11 539.00,151.20 539.25,153.30 539.50,155.40 539.75,157.49 540.00,159.56 540.25,161.60 540.50,163.60 540.75,165.54 541.00,167.41 541.25,169.21 541.50,170.92 541.75,172.54 542.00,174.05 542.25,175.45 542.50,176.73 542.75,177.89 543.00,178.91 543.25,179.79 543.50,180.53 543.75,181.13 544.00,181.57 544.25,181.86 544.50,181.99 544.75,182.00 545.00,182.00 545.25,182.00 545.50,182.00 545.75,182.00" stroke="#EDB120" stroke-width="1.0"/>
<polyline points="40.00,135.89 40.25,136.01 40.50,136.14 40.75,136.28 41.00,136.44 41.25,136.60 41.50,136.78 41.75,136.97 42.00,137.16 42.25,137.36 42.50,137.57 42.75,137.78 43.00,138.00 43.25,138.22 43.50,138.44 43.75,138.66 44.00,138.88 44.25,139.10 44.50,139.31 44.75,139.52 45.00,139.73 45.25,139.93 45.50,140.12 45.75,140.30 46.00,140.47 46.25,140.63 46.50,140.78 46.75,140.92 47.00,141.04 47.25,141.15 47.50,141.25 47.75,141.33 48.00,141.40 48.25,141.45 48.50,141.48 48.75,141.50 49.00,141.50 49.25,141.48 49.50,141.44 49.75,141.39 50.00,141.31 50.25,141.22 50.50,141.11 50.75,140.98 51.00,140.84 51.25,140.68 51.50,140.50 51.75,140.31 52.00,140.11 52.25,139.89 52.50,139.67 52.75,139.43 53.00,139.19 53.25,138.94 53.50,138.69 53.75,138.43 54.00,138.16 54.25,137.90 54.50,137.64 54.75,137.37 55.00,137.11 55.25,136.86 55.50,136.61 55.75,136.37 56.00,136.13 56.25,135.91 56.50,135.69 56.75,135.49 57.00,135.30 57.25,135.12 57.50,134.96 57.75,134.82 58.00,134.69 58.25,134.58 58.50,134.49 58.75,134.41 59.00,134.36 59.25,134.32 59.50,134.30 59.75,134.30 60.00,134.33 60.25,134.38 60.50,134.44 60.75,134.53 61.00,134.65 61.25,134.78 61.50,134.93 61.75,135.10 62.00,135.29 62.25,135.50 62.50,135.72 62.75,135.95 63.00,136.20 63.25,136.47 63.50,136.74 63.75,137.02 64.00,137.31 64.25,137.60 64.50,137.90 64.75,138.21 65.00,138.51 65.25,138.81 65.50,139.11 65.75,139.41 66.00,139.70 66.25,139.98 66.50,140.26 66.75,140.52 67.00,140.78 67.25,141.02 67.50,141.24 67.75,141.45 68.00,141.65 68.25,141.82 68.50,141.98 68.75,142.12 69.00,142.24 69.25,142.33 69.50,142.41 69.75,142.46 70.00,142.49 70.25,142.50 70.50,142.48 70.75,142.45 71.00,142.38 71.25,142.30 71.50,142.19 71.75,142.05 72.00,141.90 72.25,141.72 72.50,141.53 72.75,141.31 73.00,141.08 73.25,140.83 73.50,140.57 73.75,140.29 74.00,140.00 74.25,139.70 74.50,139.39 74.75,139.07 75.00,138.75 75.25,138.42 75.50,138.09 75.75,137.76 76.00,137.43 76.25,137.11 76.50,136.79 76.75,136.47 77.00,136.17 77.25,135.87 77.50,135.58 77.75,135.31 78.00,135.05 78.25,134.81 78.50,134.59 78.75,134.38 79.00,134.20 79.25,134.03 79.50,133.89 79.75,133.76 80.00,133.66 80.25,133.59 80.50,133.53 80.75,133.51 81.00,133.50 81.25,133.52 81.50,133.57 81.75,133.65 82.00,133.75 82.25,133.87 82.50,134.03 82.75,134.20 83.00,134.40 83.25,134.62 83.50,134.86 83.75,135.12 84.00,135.40 84.25,135.69 84.50,136.00 84.75,136.32 85.00,136.66 85.25,137.00 85.50,137.35 85.75,137.71 86.00,138.07 86.25,138.43 86.50,138.79 86.75,139.15 87.00,139.51 87.25,139.86 87.50,140.20 87.75,140.53 88.00,140.85 88.25,141.16 88.50,141.45 88.75,141.72 89.00,141.98 89.25,142.22 89.50,142.43 89.75,142.63 90.00,142.80 90.25,142.95 90.50,143.07 90.75,143.17 91.00,143.24 91.25,143.28 91.50,143.30 91.75,143.29 92.00,143.26 92.25,143.19 92.50,143.11 92.75,142.99 93.00,142.86 93.25,142.70 93.50,142.51 93.75,142.30 94.00,142.08 94.25,141.83 94.50,141.56 94.75,141.28 95.00,140.98 95.25,140.67 95.50,140.34 95.75,140.01 96.00,139.67 96.25,139.32 96.50,138.96 96.75,138.60 97.00,138.24 97.25,137.88 97.50,137.53 97.75,137.18 98.00,136.83 98.25,136.49 98.50,136.17 98.75,135.86 99.00,135.55 99.25,135.27 99.50,135.00 99.75,134.75 100.00,134.52 100.25,134.31 100.50,134.13 100.75,133.96 101.00,133.82 101.25,133.71 101.50,133.62 101.75,133.55 102.00,133.51 102.25,133.50 102.50,133.52 102.75,133.56 103.00,133.63 103.25,133.73 103.50,133.86 103.75,134.02 104.00,134.20 104.25,134.40 104.50,134.63 104.75,134.88 105.00,135.15 105.25,135.45 105.50,135.76 105.75,136.08 106.00,136.43 106.25,136.78 106.50,137.15 106.75,137.52 107.00,137.90 107.25,138.28 107.50,138.67 107.75,139.06 108.00,139.45 108.25,139.83 108.50,140.21 108.75,140.57 109.00,140.93 109.25,141.28 109.50,141.61 109.75,141.93 110.00,142.23 110.25,142.51 110.50,142.77 110.75,143.01 111.00,143.23 111.25,143.42 111.50,143.58 111.75,143.72 112.00,143.83 112.25,143.91 112.50,143.97 112.75,144.00 113.00,143.99 113.25,143.96 113.50,143.89 113.75,143.80 114.00,143.67 114.25,143.51 114.50,143.32 114.75,143.10 115.00,142.85 115.25,142.58 115.50,142.29 115.75,141.97 116.00,141.63 116.25,141.27 116.50,140.89 116.75,140.49 117.00,140.09 117.25,139.67 117.50,139.24 117.75,138.81 118.00,138.37 118.25,137.93 118.50,137.49 118.75,137.05 119.00,136.62 119.25,136.20 119.50,135.78 119.75,135.38 120.00,134.99 120.25,134.62 120.50,134.26 120.75,133.93 121.00,133.62 121.25,133.33 121.50,133.06 121.75,132.83 122.00,132.62 122.25,132.44 122.50,132.29 122.75,132.17 123.00,132.08 123.25,132.02 123.50,132.00 123.75,132.01 124.00,132.05 124.25,132.12 124.50,132.23 124.75,132.37 125.00,132.54 125.25,132.73 125.50,132.96 125.75,133.22 126.00,133.50 126.25,133.80 126.50,134.13 126.75,134.48 127.00,134.85 127.25,135.23 127.50,135.63 127.75,136.05 128.00,136.47 128.25,136.91 128.50,137.34 128.75,137.79 129.00,138.23 129.25,138.67 129.50,139.11 129.75,139.54 130.00,139.97 130.25,140.38 130.50,140.78 130.75,141.17 131.00,141.54 131.25,141.88 131.50,142.21 131.75,142.52 132.00,142.80 132.25,143.05 132.50,143.27 132.75,143.47 133.00,143.64 133.25,143.77 133.50,143.88 133.75,143.95 134.00,143.99 134.25,144.00 134.50,143.97 134.75,143.90 135.00,143.80 135.25,143.66 135.50,143.49 135.75,143.28 136.00,143.04 136.25,142.76 136.50,142.46 136.75,142.13 137.00,141.77 137.25,141.38 137.50,140.97 137.75,140.54 138.00,140.10 138.25,139.63 138.50,139.16 138.75,138.67 139.00,138.17 139.25,137.67 139.50,137.16 139.75,136.65 140.00,136.15 140.25,135.65 140.50,135.16 140.75,134.68 141.00,134.21 141.25,133.76 141.50,133.33 141.75,132.91 142.00,132.52 142.25,132.16 142.50,131.82 142.75,131.51 143.00,131.22 143.25,130.98 143.50,130.76 143.75,130.58 144.00,130.43 144.25,130.32 144.50,130.24 144.75,130.21 145.00,130.20 145.25,130.24 145.50,130.32 145.75,130.45 146.00,130.61 146.25,130.80 146.50,131.04 146.75,131.31 147.00,131.62 147.25,131.96 147.50,132.33 147.75,132.73 148.00,133.15 148.25,133.61 148.50,134.08 148.75,134.57 149.00,135.08 149.25,135.60 149.50,136.14 149.75,136.68 150.00,137.23 150.25,137.78 150.50,138.33 150.75,138.88 151.00,139.42 151.25,139.95 151.50,140.47 151.75,140.97 152.00,141.45 152.25,141.91 152.50,142.35 152.75,142.77 153.00,143.15 153.25,143.51 153.50,143.83 153.75,144.12 154.00,144.38 154.25,144.60 154.50,144.78 154.75,144.92 155.00,145.02 155.25,145.08 155.50,145.10 155.75,145.08 156.00,145.02 156.25,144.92 156.50,144.78 156.75,144.60 157.00,144.39 157.25,144.14 157.50,143.85 157.75,143.53 158.00,143.18 158.25,142.80 158.50,142.39 158.75,141.96 159.00,141.50 159.25,141.02 159.50,140.53 159.75,140.01 160.00,139.49 160.25,138.96 160.50,138.41 160.75,137.87 161.00,137.32 161.25,136.78 161.50,136.24 161.75,135.70 162.00,135.18 162.25,134.67 162.50,134.18 162.75,133.71 163.00,133.25 163.25,132.82 163.50,132.42 163.75,132.05 164.00,131.70 164.25,131.39 164.50,131.11 164.75,130.87 165.00,130.66 165.25,130.49 165.50,130.36 165.75,130.26 166.00,130.21 166.25,130.20 166.50,130.24 166.75,130.32 167.00,130.45 167.25,130.64 167.50,130.86 167.75,131.14 168.00,131.46 168.25,131.82 168.50,132.23 168.75,132.67 169.00,133.15 169.25,133.66 169.50,134.20 169.75,134.77 170.00,135.37 170.25,135.99 170.50,136.62 170.75,137.27 171.00,137.93 171.25,138.60 171.50,139.27 171.75,139.95 172.00,140.61 172.25,141.28 172.50,141.93 172.75,142.56 173.00,143.18 173.25,143.78 173.50,144.35 173.75,144.90 174.00,145.41 174.25,145.89 174.50,146.34 174.75,146.75 175.00,147.11 175.25,147.44 175.50,147.72 175.75,147.95 176.00,148.13 176.25,148.27 176.50,148.36 176.75,148.40 177.00,148.39 177.25,148.33 177.50,148.22 177.75,148.06 178.00,147.85 178.25,147.60 178.50,147.30 178.75,146.96 179.00,146.58 179.25,146.16 179.50,145.70 179.75,145.20 180.00,144.67 180.25,144.12 180.50,143.53 180.75,142.93 181.00,142.30 181.25,141.65 181.50,141.00 181.75,140.33 182.00,139.66 182.25,138.98 182.50,138.31 182.75,137.64 183.00,136.98 183.25,136.33 183.50,135.70 183.75,135.08 184.00,134.49 184.25,133.92 184.50,133.39 184.75,132.88 185.00,132.41 185.25,131.97 185.50,131.57 185.75,131.21 186.00,130.90 186.25,130.63 186.50,130.41 186.75,130.23 187.00,130.11 187.25,130.03 187.50,130.00 187.75,130.02 188.00,130.09 188.25,130.21 188.50,130.39 188.75,130.61 189.00,130.87 189.25,131.19 189.50,131.54 189.75,131.94 190.00,132.38 190.25,132.86 190.50,133.37 190.75,133.91 191.00,134.48 191.25,135.08 191.50,135.70 191.75,136.34 192.00,137.00 192.25,137.67 192.50,138.35 192.75,139.03 193.00,139.71 193.25,140.40 193.50,141.07 193.75,141.74 194.00,142.39 194.25,143.02 194.50,143.64 194.75,144.23 195.00,144.79 195.25,145.32 195.50,145.82 195.75,146.28 196.00,146.71 196.25,147.09 196.50,147.43 196.75,147.73 197.00,147.98 197.25,148.18 197.50,148.33 197.75,148.44 198.00,148.49 198.25,148.49 198.50,148.44 198.75,148.32 199.00,148.15 199.25,147.92 199.50,147.63 199.75,147.29 200.00,146.89 200.25,146.45 200.50,145.95 200.75,145.41 201.00,144.83 201.25,144.20 201.50,143.55 201.75,142.85 202.00,142.13 202.25,141.38 202.50,140.62 202.75,139.83 203.00,139.03 203.25,138.23 203.50,137.42 203.75,136.61 204.00,135.80 204.25,135.00 204.50,134.22 204.75,133.45 205.00,132.71 205.25,131.99 205.50,131.30 205.75,130.64 206.00,130.02 206.25,129.44 206.50,128.91 206.75,128.42 207.00,127.97 207.25,127.58 207.50,127.24 207.75,126.96 208.00,126.73 208.25,126.57 208.50,126.46 208.75,126.40 209.00,126.41 209.25,126.49 209.50,126.62 209.75,126.82 210.00,127.09 210.25,127.41 210.50,127.79 210.75,128.23 211.00,128.73 211.25,129.27 211.50,129.87 211.75,130.51 212.00,131.19 212.25,131.91 212.50,132.67 212.75,133.45 213.00,134.26 213.25,135.10 213.50,135.95 213.75,136.81 214.00,137.68 214.25,138.55 214.50,139.42 214.75,140.28 215.00,141.14 215.25,141.97 215.50,142.79 215.75,143.58 216.00,144.34 216.25,145.07 216.50,145.76 216.75,146.41 217.00,147.01 217.25,147.57 217.50,148.07 217.75,148.52 218.00,148.92 218.25,149.25 218.50,149.53 218.75,149.74 219.00,149.89 219.25,149.98 219.50,150.00 219.75,149.96 220.00,149.84 220.25,149.67 220.50,149.43 220.75,149.12 221.00,148.75 221.25,148.33 221.50,147.84 221.75,147.30 222.00,146.71 222.25,146.07 222.50,145.38 222.75,144.65 223.00,143.88 223.25,143.08 223.50,142.25 223.75,141.40 224.00,140.52 224.25,139.63 224.50,138.73 224.75,137.82 225.00,136.91 225.25,136.00 225.50,135.11 225.75,134.22 226.00,133.36 226.25,132.51 226.50,131.70 226.75,130.91 227.00,130.16 227.25,129.46 227.50,128.79 227.75,128.18 228.00,127.61 228.25,127.10 228.50,126.64 228.75,126.25 229.00,125.91 229.25,125.64 229.50,125.43 229.75,125.29 230.00,125.21 230.25,125.20 230.50,125.27 230.75,125.40 231.00,125.60 231.25,125.88 231.50,126.22 231.75,126.63 232.00,127.10 232.25,127.63 232.50,128.23 232.75,128.87 233.00,129.57 233.25,130.32 233.50,131.11 233.75,131.94 234.00,132.81 234.25,133.71 234.50,134.63 234.75,135.57 235.00,136.53 235.25,137.49 235.50,138.47 235.75,139.44 236.00,140.40 236.25,141.36 236.50,142.30 236.75,143.21 237.00,144.10 237.25,144.96 237.50,145.78 237.75,146.56 238.00,147.30 238.25,147.99 238.50,148.62 238.75,149.20 239.00,149.72 239.25,150.18 239.50,150.57 239.75,150.89 240.00,151.15 240.25,151.34 240.50,151.45 240.75,151.50 241.00,151.47 241.25,151.36 241.50,151.18 241.75,150.91 242.00,150.58 242.25,150.17 242.50,149.68 242.75,149.13 243.00,148.52 243.25,147.84 243.50,147.10 243.75,146.31 244.00,145.47 244.25,144.58 244.50,143.65 244.75,142.69 245.00,141.69 245.25,140.67 245.50,139.63 245.75,138.57 246.00,137.51 246.25,136.44 246.50,135.37 246.75,134.32 247.00,133.27 247.25,132.25 247.50,131.25 247.75,130.29 248.00,129.36 248.25,128.47 248.50,127.62 248.75,126.83 249.00,126.09 249.25,125.41 249.50,124.79 249.75,124.24 250.00,123.75 250.25,123.34 250.50,123.00 250.75,122.73 251.00,122.54 251.25,122.43 251.50,122.40 251.75,122.45 252.00,122.57 252.25,122.78 252.50,123.07 252.75,123.43 253.00,123.87 253.25,124.38 253.50,124.96 253.75,125.60 254.00,126.31 254.25,127.08 254.50,127.90 254.75,128.78 255.00,129.70 255.25,130.66 255.50,131.66 255.75,132.68 256.00,133.73 256.25,134.80 256.50,135.89 256.75,136.98 257.00,138.07 257.25,139.15 257.50,140.23 257.75,141.28 258.00,142.32 258.25,143.32 258.50,144.30 258.75,145.23 259.00,146.12 259.25,146.96 259.50,147.75 259.75,148.48 260.00,149.14 260.25,149.75 260.50,150.28 260.75,150.74 261.00,151.13 261.25,151.44 261.50,151.67 261.75,151.82 262.00,151.89 262.25,151.89 262.50,151.80 262.75,151.62 263.00,151.37 263.25,151.04 263.50,150.63 263.75,150.15 264.00,149.60 264.25,148.97 264.50,148.28 264.75,147.53 265.00,146.72 265.25,145.85 265.50,144.93 265.75,143.98 266.00,142.98 266.25,141.95 266.50,140.88 266.75,139.80 267.00,138.70 267.25,137.59 267.50,136.48 267.75,135.36 268.00,134.26 268.25,133.16 268.50,132.09 268.75,131.04 269.00,130.02 269.25,129.04 269.50,128.09 269.75,127.20 270.00,126.35 270.25,125.56 270.50,124.84 270.75,124.17 271.00,123.57 271.25,123.05 271.50,122.59 271.75,122.22 272.00,121.92 272.25,121.70 272.50,121.56 272.75,121.50 273.00,121.53 273.25,121.66 273.50,121.90 273.75,122.23 274.00,122.65 274.25,123.18 274.50,123.79 274.75,124.49 275.00,125.28 275.25,126.15 275.50,127.09 275.75,128.11 276.00,129.19 276.25,130.33 276.50,131.52 276.75,132.76 277.00,134.03 277.25,135.34 277.50,136.68 277.75,138.03 278.00,139.40 278.25,140.77 278.50,142.13 278.75,143.48 279.00,144.81 279.25,146.12 279.50,147.39 279.75,148.63 280.00,149.81 280.25,150.94 280.50,152.02 280.75,153.02 281.00,153.96 281.25,154.82 281.50,155.60 281.75,156.29 282.00,156.89 282.25,157.40 282.50,157.82 282.75,158.14 283.00,158.36 283.25,158.48 283.50,158.49 283.75,158.41 284.00,158.22 284.25,157.92 284.50,157.52 284.75,157.02 285.00,156.43 285.25,155.74 285.50,154.96 285.75,154.09 286.00,153.14 286.25,152.11 286.50,151.02 286.75,149.85 287.00,148.63 287.25,147.36 287.50,146.04 287.75,144.68 288.00,143.29 288.25,141.88 288.50,140.45 288.75,139.02 289.00,137.58 289.25,136.15 289.50,134.73 289.75,133.34 290.00,131.97 290.25,130.65 290.50,129.37 290.75,128.14 291.00,126.96 291.25,125.86 291.50,124.82 291.75,123.86 292.00,122.98 292.25,122.18 292.50,121.48 292.75,120.86 293.00,120.35 293.25,119.94 293.50,119.62 293.75,119.42 294.00,119.31 294.25,119.31 294.50,119.42 294.75,119.64 295.00,119.96 295.25,120.38 295.50,120.91 295.75,121.53 296.00,122.25 296.25,123.06 296.50,123.96 296.75,124.94 297.00,125.99 297.25,127.12 297.50,128.31 297.75,129.56 298.00,130.85 298.25,132.20 298.50,133.58 298.75,134.98 299.00,136.41 299.25,137.86 299.50,139.31 299.75,140.75 300.00,142.19 300.25,143.61 300.50,145.00 300.75,146.36 301.00,147.68 301.25,148.95 301.50,150.17 301.75,151.32 302.00,152.41 302.25,153.42 302.50,154.35 302.75,155.20 303.00,155.96 303.25,156.63 303.50,157.20 303.75,157.67 304.00,158.03 304.25,158.29 304.50,158.45 304.75,158.50 305.00,158.43 305.25,158.23 305.50,157.91 305.75,157.46 306.00,156.89 306.25,156.20 306.50,155.39 306.75,154.47 307.00,153.45 307.25,152.32 307.50,151.10 307.75,149.80 308.00,148.41 308.25,146.94 308.50,145.41 308.75,143.82 309.00,142.19 309.25,140.51 309.50,138.80 309.75,137.07 310.00,135.33 310.25,133.58 310.50,131.84 310.75,130.12 311.00,128.42 311.25,126.75 311.50,125.13 311.75,123.55 312.00,122.04 312.25,120.60 312.50,119.23 312.75,117.95 313.00,116.75 313.25,115.65 313.50,114.66 313.75,113.77 314.00,113.00 314.25,112.34 314.50,111.80 314.75,111.39 315.00,111.10 315.25,110.94 315.50,110.90 315.75,111.00 316.00,111.23 316.25,111.60 316.50,112.09 316.75,112.71 317.00,113.46 317.25,114.32 317.50,115.30 317.75,116.39 318.00,117.58 318.25,118.87 318.50,120.25 318.75,121.71 319.00,123.25 319.25,124.85 319.50,126.51 319.75,128.22 320.00,129.97 320.25,131.75 320.50,133.54 320.75,135.35 321.00,137.16 321.25,138.95 321.50,140.73 321.75,142.48 322.00,144.19 322.25,145.85 322.50,147.45 322.75,148.99 323.00,150.45 323.25,151.83 323.50,153.12 323.75,154.31 324.00,155.40 324.25,156.38 324.50,157.24 324.75,157.99 325.00,158.61 325.25,159.10 325.50,159.47 325.75,159.70 326.00,159.80 326.25,159.76 326.50,159.59 326.75,159.27 327.00,158.82 327.25,158.24 327.50,157.53 327.75,156.69 328.00,155.73 328.25,154.65 328.50,153.46 328.75,152.16 329.00,150.77 329.25,149.29 329.50,147.72 329.75,146.08 330.00,144.38 330.25,142.62 330.50,140.81 330.75,138.97 331.00,137.10 331.25,135.21 331.50,133.32 331.75,131.43 332.00,129.55 332.25,127.70 332.50,125.88 332.75,124.11 333.00,122.39 333.25,120.73 333.50,119.14 333.75,117.64 334.00,116.22 334.25,114.89 334.50,113.67 334.75,112.56 335.00,111.57 335.25,110.69 335.50,109.95 335.75,109.33 336.00,108.84 336.25,108.49 336.50,108.28 336.75,108.20 337.00,108.28 337.25,108.52 337.50,108.94 337.75,109.52 338.00,110.26 338.25,111.16 338.50,112.21 338.75,113.41 339.00,114.75 339.25,116.22 339.50,117.82 339.75,119.54 340.00,121.36 340.25,123.28 340.50,125.29 340.75,127.37 341.00,129.52 341.25,131.72 341.50,133.96 341.75,136.22 342.00,138.51 342.25,140.80 342.50,143.08 342.75,145.33 343.00,147.56 343.25,149.74 343.50,151.86 343.75,153.91 344.00,155.88 344.25,157.75 344.50,159.53 344.75,161.20 345.00,162.74 345.25,164.16 345.50,165.44 345.75,166.57 346.00,167.56 346.25,168.39 346.50,169.06 346.75,169.56 347.00,169.90 347.25,170.08 347.50,170.08 347.75,169.93 348.00,169.61 348.25,169.14 348.50,168.52 348.75,167.74 349.00,166.82 349.25,165.76 349.50,164.56 349.75,163.23 350.00,161.78 350.25,160.22 350.50,158.54 350.75,156.78 351.00,154.92 351.25,152.99 351.50,150.99 351.75,148.94 352.00,146.84 352.25,144.70 352.50,142.54 352.75,140.38 353.00,138.21 353.25,136.06 353.50,133.93 353.75,131.83 354.00,129.78 354.25,127.80 354.50,125.88 354.75,124.03 355.00,122.28 355.25,120.63 355.50,119.08 355.75,117.65 356.00,116.34 356.25,115.16 356.50,114.12 356.75,113.22 357.00,112.47 357.25,111.87 357.50,111.43 357.75,111.14 358.00,111.01 358.25,111.04 358.50,111.25 358.75,111.65 359.00,112.22 359.25,112.96 359.50,113.87 359.75,114.95 360.00,116.19 360.25,117.58 360.50,119.11 360.75,120.78 361.00,122.58 361.25,124.50 361.50,126.52 361.75,128.64 362.00,130.84 362.25,133.11 362.50,135.45 362.75,137.83 363.00,140.25 363.25,142.68 363.50,145.13 363.75,147.56 364.00,149.98 364.25,152.37 364.50,154.71 364.75,156.99 365.00,159.20 365.25,161.33 365.50,163.37 365.75,165.29 366.00,167.11 366.25,168.79 366.50,170.34 366.75,171.75 367.00,173.01 367.25,174.11 367.50,175.04 367.75,175.80 368.00,176.39 368.25,176.81 368.50,177.04 368.75,177.10 369.00,176.96 369.25,176.62 369.50,176.08 369.75,175.35 370.00,174.43 370.25,173.33 370.50,172.05 370.75,170.59 371.00,168.97 371.25,167.19 371.50,165.27 371.75,163.21 372.00,161.03 372.25,158.73 372.50,156.34 372.75,153.85 373.00,151.29 373.25,148.67 373.50,146.01 373.75,143.31 374.00,140.59 374.25,137.88 374.50,135.17 374.75,132.49 375.00,129.85 375.25,127.26 375.50,124.75 375.75,122.32 376.00,119.98 376.25,117.75 376.50,115.64 376.75,113.66 377.00,111.82 377.25,110.14 377.50,108.62 377.75,107.26 378.00,106.09 378.25,105.09 378.50,104.29 378.75,103.67 379.00,103.26 379.25,103.04 379.50,103.02 379.75,103.19 380.00,103.56 380.25,104.13 380.50,104.88 380.75,105.82 381.00,106.94 381.25,108.24 381.50,109.70 381.75,111.32 382.00,113.09 382.25,115.00 382.50,117.05 382.75,119.21 383.00,121.48 383.25,123.84 383.50,126.29 383.75,128.81 384.00,131.38 384.25,133.99 384.50,136.62 384.75,139.27 385.00,141.92 385.25,144.55 385.50,147.15 385.75,149.71 386.00,152.20 386.25,154.62 386.50,156.96 386.75,159.19 387.00,161.32 387.25,163.32 387.50,165.19 387.75,166.92 388.00,168.49 388.25,169.90 388.50,171.14 388.75,172.20 389.00,173.08 389.25,173.77 389.50,174.28 389.75,174.59 390.00,174.70 390.25,174.60 390.50,174.26 390.75,173.67 391.00,172.86 391.25,171.81 391.50,170.53 391.75,169.04 392.00,167.33 392.25,165.43 392.50,163.33 392.75,161.05 393.00,158.60 393.25,156.00 393.50,153.26 393.75,150.39 394.00,147.41 394.25,144.33 394.50,141.18 394.75,137.97 395.00,134.71 395.25,131.43 395.50,128.14 395.75,124.86 396.00,121.60 396.25,118.39 396.50,115.24 396.75,112.17 397.00,109.20 397.25,106.33 397.50,103.59 397.75,101.00 398.00,98.56 398.25,96.29 398.50,94.19 398.75,92.30 399.00,90.60 399.25,89.11 399.50,87.85 399.75,86.81 400.00,86.00 400.25,85.43 400.50,85.09 400.75,85.00 401.00,85.16 401.25,85.58 401.50,86.25 401.75,87.17 402.00,88.34 402.25,89.75 402.50,91.39 402.75,93.26 403.00,95.33 403.25,97.61 403.50,100.08 403.75,102.72 404.00,105.53 404.25,108.48 404.50,111.56 404.75,114.75 405.00,118.04 405.25,121.41 405.50,124.83 405.75,128.29 406.00,131.78 406.25,135.27 406.50,138.74 406.75,142.18 407.00,145.56 407.25,148.87 407.50,152.08 407.75,155.19 408.00,158.18 408.25,161.02 408.50,163.70 408.75,166.21 409.00,168.54 409.25,170.66 409.50,172.58 409.75,174.27 410.00,175.74 410.25,176.97 410.50,177.95 410.75,178.68 411.00,179.16 411.25,179.38 411.50,179.35 411.75,179.08 412.00,178.58 412.25,177.84 412.50,176.87 412.75,175.68 413.00,174.28 413.25,172.66 413.50,170.84 413.75,168.84 414.00,166.65 414.25,164.29 414.50,161.78 414.75,159.13 415.00,156.35 415.25,153.45 415.50,150.46 415.75,147.39 416.00,144.25 416.25,141.07 416.50,137.85 416.75,134.62 417.00,131.40 417.25,128.20 417.50,125.03 417.75,121.93 418.00,118.89 418.25,115.94 418.50,113.10 418.75,110.38 419.00,107.79 419.25,105.36 419.50,103.08 419.75,100.98 420.00,99.06 420.25,97.34 420.50,95.82 420.75,94.52 421.00,93.44 421.25,92.58 421.50,91.95 421.75,91.56 422.00,91.40 422.25,91.51 422.50,91.90 422.75,92.60 423.00,93.58 423.25,94.86 423.50,96.41 423.75,98.23 424.00,100.32 424.25,102.65 424.50,105.22 424.75,108.01 425.00,111.01 425.25,114.20 425.50,117.56 425.75,121.08 426.00,124.74 426.25,128.51 426.50,132.38 426.75,136.32 427.00,140.31 427.25,144.34 427.50,148.37 427.75,152.39 428.00,156.37 428.25,160.30 428.50,164.15 428.75,167.90 429.00,171.53 429.25,175.02 429.50,178.35 429.75,181.51 430.00,184.47 430.25,187.21 430.50,189.74 430.75,192.02 431.00,194.05 431.25,195.82 431.50,197.32 431.75,198.54 432.00,199.46 432.25,200.10 432.50,200.44 432.75,200.48 433.00,200.21 433.25,199.64 433.50,198.76 433.75,197.58 434.00,196.11 434.25,194.35 434.50,192.31 434.75,190.01 435.00,187.45 435.25,184.66 435.50,181.64 435.75,178.42 436.00,175.00 436.25,171.41 436.50,167.67 436.75,163.79 437.00,159.80 437.25,155.72 437.50,151.58 437.75,147.39 438.00,143.17 438.25,138.95 438.50,134.76 438.75,130.61 439.00,126.52 439.25,122.53 439.50,118.64 439.75,114.89 440.00,111.28 440.25,107.85 440.50,104.61 440.75,101.57 441.00,98.76 441.25,96.19 441.50,93.86 441.75,91.81 442.00,90.02 442.25,88.53 442.50,87.32 442.75,86.42 443.00,85.82 443.25,85.53 443.50,85.55 443.75,85.92 444.00,86.63 444.25,87.69 444.50,89.08 444.75,90.79 445.00,92.83 445.25,95.17 445.50,97.80 445.75,100.72 446.00,103.90 446.25,107.33 446.50,110.98 446.75,114.84 447.00,118.89 447.25,123.10 447.50,127.46 447.75,131.93 448.00,136.50 448.25,141.13 448.50,145.81 448.75,150.50 449.00,155.19 449.25,159.84 449.50,164.43 449.75,168.94 450.00,173.34 450.25,177.61 450.50,181.72 450.75,185.65 451.00,189.38 451.25,192.89 451.50,196.16 451.75,199.18 452.00,201.92 452.25,204.36 452.50,206.51 452.75,208.34 453.00,209.85 453.25,211.03 453.50,211.86 453.75,212.35 454.00,212.50 454.25,212.27 454.50,211.63 454.75,210.60 455.00,209.17 455.25,207.36 455.50,205.17 455.75,202.62 456.00,199.73 456.25,196.49 456.50,192.94 456.75,189.10 457.00,184.97 457.25,180.59 457.50,175.98 457.75,171.17 458.00,166.17 458.25,161.02 458.50,155.75 458.75,150.38 459.00,144.94 459.25,139.46 459.50,133.97 459.75,128.50 460.00,123.08 460.25,117.74 460.50,112.51 460.75,107.41 461.00,102.48 461.25,97.73 461.50,93.20 461.75,88.91 462.00,84.89 462.25,81.14 462.50,77.71 462.75,74.59 463.00,71.82 463.25,69.40 463.50,67.34 463.75,65.67 464.00,64.39 464.25,63.50 464.50,63.00 464.75,62.91 465.00,63.19 465.25,63.83 465.50,64.83 465.75,66.17 466.00,67.85 466.25,69.87 466.50,72.21 466.75,74.86 467.00,77.80 467.25,81.02 467.50,84.50 467.75,88.22 468.00,92.16 468.25,96.31 468.50,100.63 468.75,105.10 469.00,109.70 469.25,114.41 469.50,119.20 469.75,124.03 470.00,128.89 470.25,133.76 470.50,138.59 470.75,143.37 471.00,148.07 471.25,152.66 471.50,157.12 471.75,161.43 472.00,165.56 472.25,169.49 472.50,173.19 472.75,176.65 473.00,179.85 473.25,182.77 473.50,185.39 473.75,187.70 474.00,189.69 474.25,191.35 474.50,192.67 474.75,193.63 475.00,194.24 475.25,194.49 475.50,194.37 475.75,193.83 476.00,192.87 476.25,191.51 476.50,189.75 476.75,187.60 477.00,185.08 477.25,182.18 477.50,178.94 477.75,175.36 478.00,171.47 478.25,167.29 478.50,162.84 478.75,158.14 479.00,153.23 479.25,148.12 479.50,142.84 479.75,137.43 480.00,131.90 480.25,126.30 480.50,120.65 480.75,114.98 481.00,109.33 481.25,103.71 481.50,98.17 481.75,92.73 482.00,87.43 482.25,82.28 482.50,77.32 482.75,72.58 483.00,68.08 483.25,63.84 483.50,59.89 483.75,56.25 484.00,52.94 484.25,49.97 484.50,47.37 484.75,45.14 485.00,43.31 485.25,41.87 485.50,40.83 485.75,40.21 486.00,40.00 486.25,40.25 486.50,41.00 486.75,42.24 487.00,43.97 487.25,46.18 487.50,48.85 487.75,51.98 488.00,55.54 488.25,59.51 488.50,63.88 488.75,68.61 489.00,73.69 489.25,79.09 489.50,84.77 489.75,90.70 490.00,96.86 490.25,103.21 490.50,109.71 490.75,116.33 491.00,123.03 491.25,129.78 491.50,136.53 491.75,143.26 492.00,149.93 492.25,156.49 492.50,162.91 492.75,169.17 493.00,175.21 493.25,181.02 493.50,186.56 493.75,191.79 494.00,196.70 494.25,201.24 494.50,205.41 494.75,209.17 495.00,212.50 495.25,215.40 495.50,217.83 495.75,219.79 496.00,221.27 496.25,222.25 496.50,222.74 496.75,222.73 497.00,222.22 497.25,221.20 497.50,219.68 497.75,217.68 498.00,215.20 498.25,212.25 498.50,208.85 498.75,205.03 499.00,200.79 499.25,196.17 499.50,191.18 499.75,185.86 500.00,180.23 500.25,174.33 500.50,168.18 500.75,161.82 501.00,155.28 501.25,148.60 501.50,141.82 501.75,134.96 502.00,128.07 502.25,121.19 502.50,114.35 502.75,107.58 503.00,100.93 503.25,94.44 503.50,88.12 503.75,82.03 504.00,76.19 504.25,70.63 504.50,65.39 504.75,60.49 505.00,55.95 505.25,51.82 505.50,48.09 505.75,44.80 506.00,41.96 506.25,39.60 506.50,37.71 506.75,36.31 507.00,35.41 507.25,35.02 507.50,35.16 507.75,35.91 508.00,37.28 508.25,39.25 508.50,41.82 508.75,44.97 509.00,48.68 509.25,52.94 509.50,57.71 509.75,62.98 510.00,68.72 510.25,74.89 510.50,81.46 510.75,88.39 511.00,95.65 511.25,103.20 511.50,110.99 511.75,118.99 512.00,127.14 512.25,135.41 512.50,143.75 512.75,152.11 513.00,160.45 513.25,168.73 513.50,176.89 513.75,184.89 514.00,192.69 514.25,200.25 514.50,207.52 514.75,214.47 515.00,221.06 515.25,227.24 515.50,233.00 515.75,238.28 516.00,243.08 516.25,247.36 516.50,251.09 516.75,254.26 517.00,256.86 517.25,258.85 517.50,260.24 517.75,261.02 518.00,261.18 518.25,260.72 518.50,259.64 518.75,257.95 519.00,255.65 519.25,252.75 519.50,249.28 519.75,245.26 520.00,240.69 520.25,235.62 520.50,230.05 520.75,224.04 521.00,217.60 521.25,210.77 521.50,203.60 521.75,196.11 522.00,188.34 522.25,180.35 522.50,172.17 522.75,163.85 523.00,155.43 523.25,146.96 523.50,138.48 523.75,130.03 524.00,121.68 524.25,113.45 524.50,105.39 524.75,97.55 525.00,89.97 525.25,82.69 525.50,75.74 525.75,69.18 526.00,63.02 526.25,57.31 526.50,52.08 526.75,47.35 527.00,43.14 527.25,39.49 527.50,36.42 527.75,33.92 528.00,32.03 528.25,30.76 528.50,30.10 528.75,30.06 529.00,30.67 529.25,31.91 529.50,33.78 529.75,36.28 530.00,39.38 530.25,43.08 530.50,47.34 530.75,52.16 531.00,57.49 531.25,63.32 531.50,69.60 531.75,76.32 532.00,83.42 532.25,90.87 532.50,98.63 532.75,106.66 533.00,114.91 533.25,123.34 533.50,131.90 533.75,140.55 534.00,149.24 534.25,157.91 534.50,166.53 534.75,175.05 535.00,183.41 535.25,191.58 535.50,199.51 535.75,207.15 536.00,214.47 536.25,221.42 536.50,227.96 536.75,234.07 537.00,239.70 537.25,244.83 537.50,249.43 537.75,253.47 538.00,256.93 538.25,259.79 538.50,262.04 538.75,263.67 539.00,264.65 539.25,265.00 539.50,264.72 539.75,263.83 540.00,262.34 540.25,260.25 540.50,257.57 540.75,254.33 541.00,250.53 541.25,246.20 541.50,241.36 541.75,236.04 542.00,230.27 542.25,224.08 542.50,217.49 542.75,210.56 543.00,203.31 543.25,195.78 543.50,188.02 543.75,180.07 544.00,171.96 544.25,163.75 544.50,155.48 544.75,147.20 545.00,138.94 545.25,130.76 545.50,122.69 545.75,114.79" stroke="#7E2F8E" stroke-width="1.3" stroke-dasharray="2.4 0.45 1.1 0.45"/>
</g>
<rect x="43.5" y="7.5" width="499.0" height="262.0" fill="none" stroke="#727272" stroke-width="1.4"/>
<path d="M43.5 269.5v-5M43.5 7.5v5M126.5 269.5v-5M126.5 7.5v5M210.0 269.5v-5M210.0 7.5v5M293.0 269.5v-5M293.0 7.5v5M376.0 269.5v-5M376.0 7.5v5M459.5 269.5v-5M459.5 7.5v5M542.5 269.5v-5M542.5 7.5v5M43.5 269.5h5M542.5 269.5h-5M43.5 225.5h5M542.5 225.5h-5M43.5 182.5h5M542.5 182.5h-5M43.5 138.5h5M542.5 138.5h-5M43.5 94.5h5M542.5 94.5h-5M43.5 51.5h5M542.5 51.5h-5M43.5 7.5h5M542.5 7.5h-5" stroke="#727272" stroke-width="1.4" fill="none"/>
<g class="tl"><text x="43.5" y="284.5" text-anchor="middle">0</text><text x="126.7" y="284.5" text-anchor="middle">5</text><text x="209.8" y="284.5" text-anchor="middle">10</text><text x="293.0" y="284.5" text-anchor="middle">15</text><text x="376.2" y="284.5" text-anchor="middle">20</text><text x="459.3" y="284.5" text-anchor="middle">25</text><text x="542.5" y="284.5" text-anchor="middle">30</text><text x="38.2" y="274.0" text-anchor="end">-<tspan dx="1">150</tspan></text><text x="38.2" y="230.3" text-anchor="end">-<tspan dx="1">100</tspan></text><text x="38.2" y="186.7" text-anchor="end">-<tspan dx="1">50</tspan></text><text x="38.2" y="143.0" text-anchor="end">0</text><text x="38.2" y="99.3" text-anchor="end">50</text><text x="38.2" y="55.7" text-anchor="end">100</text><text x="38.2" y="12.0" text-anchor="end">150</text></g>
<text class="lb" style="font-size:12.3px" x="292.8" y="297.8" text-anchor="middle">Time (Sec)</text>
<text class="lb" style="font-size:12.4px" transform="translate(11.6,138.7) rotate(-90)" text-anchor="middle">States of the open-loop <tspan class="mi" style="font-size:11.3px">x</tspan>(<tspan font-style="italic">t</tspan>)</text>
<!-- legend -->
<rect x="481.5" y="17.5" width="51" height="47" fill="#fff" stroke="#727272" stroke-width="1.4"/>
<g fill="none">
<path d="M484.5 24.5H507.5" stroke="#0072BD" stroke-width="1.6"/>
<path d="M484.5 35.8H507.5" stroke="#D95319" stroke-width="1.6" stroke-dasharray="3.5 2.5"/>
<path d="M484.5 47.2H507.5" stroke="#EDB120" stroke-width="0.8"/>
<path d="M484.5 58.6H507.5" stroke="#7E2F8E" stroke-width="1.6" stroke-dasharray="3 1.3 1 1.3"/>
</g>
<g class="lg">
<text x="510" y="27.5"><tspan class="mi">x</tspan><tspan font-size="7.2" dy="2">1</tspan><tspan dy="-2">(</tspan><tspan font-style="italic">t</tspan>)</text>
<text x="510" y="38.9"><tspan class="mi">x</tspan><tspan font-size="7.2" dy="2">2</tspan><tspan dy="-2">(</tspan><tspan font-style="italic">t</tspan>)</text>
<text x="510" y="50.3"><tspan class="mi">x</tspan><tspan font-size="7.2" dy="2">3</tspan><tspan dy="-2">(</tspan><tspan font-style="italic">t</tspan>)</text>
<text x="510" y="61.7"><tspan class="mi">x</tspan><tspan font-size="7.2" dy="2">4</tspan><tspan dy="-2">(</tspan><tspan font-style="italic">t</tspan>)</text>
</g>
<!-- inset -->
<rect x="98.5" y="157.5" width="147.0" height="80.0" fill="#fff" stroke="#727272" stroke-width="1.4"/>
<polyline points="98.50,221.50 103.90,221.50 103.90,173.50 112.70,173.50 112.70,221.50 115.80,221.50 115.80,173.50 118.50,173.50 118.50,221.50 124.75,221.50 124.75,189.50 127.25,189.50 127.25,221.50 130.40,221.50 130.40,205.50 133.50,205.50 133.50,173.50 138.70,173.50 138.70,205.50 141.40,205.50 141.40,221.50 145.00,221.50 145.00,173.50 151.20,173.50 151.20,189.50 153.90,189.50 153.90,173.50 159.50,173.50 159.50,205.50 162.25,205.50 162.25,189.50 164.75,189.50 164.75,173.50 167.90,173.50 167.90,205.50 174.40,205.50 174.40,173.50 177.50,173.50 177.50,189.50 180.70,189.50 180.70,173.50 189.60,173.50 189.60,205.50 192.60,205.50 192.60,189.50 201.50,189.50 201.50,173.50 204.20,173.50 204.20,205.50 207.80,205.50 207.80,189.50 213.00,189.50 213.00,205.50 216.10,205.50 216.10,173.50 221.40,173.50 221.40,221.50 224.50,221.50 224.50,205.50 227.60,205.50 227.60,221.50 230.80,221.50 230.80,173.50 239.70,173.50 239.70,189.50 245.50,189.50" fill="none" stroke="#FF0000" stroke-width="1.2"/>
<path d="M98.5 237.5v-2M98.5 157.5v2M147.5 237.5v-2M147.5 157.5v2M196.5 237.5v-2M196.5 157.5v2M245.5 237.5v-2M245.5 157.5v2M98.5 221.5h2M245.5 221.5h-2M98.5 205.5h2M245.5 205.5h-2M98.5 189.5h2M245.5 189.5h-2M98.5 173.5h2M245.5 173.5h-2" stroke="#727272" stroke-width="1.2" fill="none"/>
<g class="tl"><text x="98.5" y="253.2" text-anchor="middle">0</text><text x="147.5" y="253.2" text-anchor="middle">10</text><text x="196.5" y="253.2" text-anchor="middle">20</text><text x="245.5" y="253.2" text-anchor="middle">30</text><text x="93.2" y="226.3" text-anchor="end">1</text><text x="93.2" y="210.3" text-anchor="end">2</text><text x="93.2" y="194.3" text-anchor="end">3</text><text x="93.2" y="178.3" text-anchor="end">4</text></g>
<text class="lb" x="171.7" y="265" text-anchor="middle"><tspan font-style="italic">t</tspan><tspan dx="0.8" dy="1.4" font-size="13.5">/</tspan><tspan dx="0.6" dy="-1.4">sec</tspan></text>
<text class="lb" style="font-size:11.85px" transform="translate(79.7,196.9) rotate(-90)" text-anchor="middle">Switching signal</text>
</svg>
</body></html>
